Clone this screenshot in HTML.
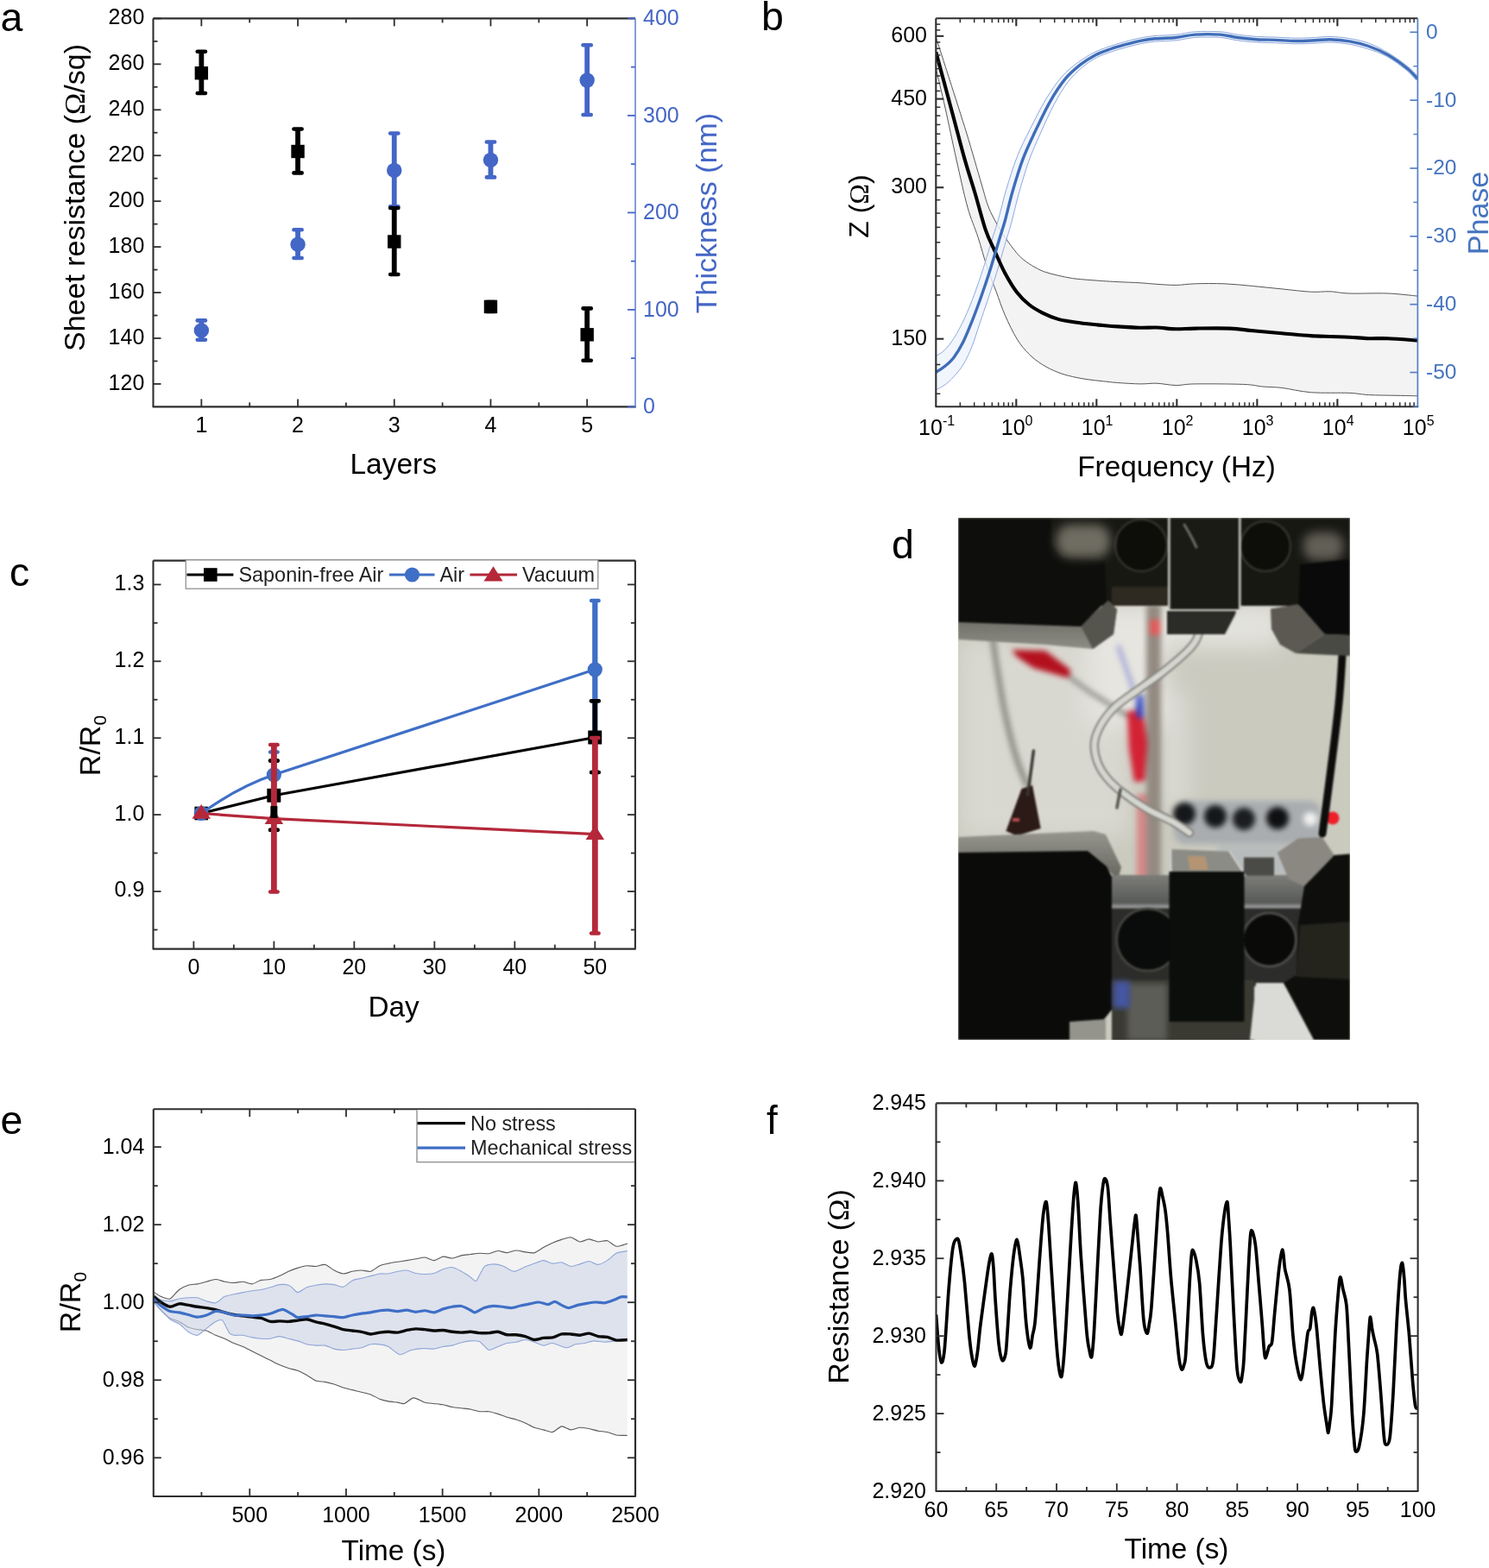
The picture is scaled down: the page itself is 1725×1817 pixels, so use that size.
<!DOCTYPE html>
<html lang="en">
<head>
<meta charset="utf-8">
<title>Figure</title>
<style>
html,body{margin:0;padding:0;background:#fff;}
body{width:1725px;height:1817px;overflow:hidden;}
svg{display:block;font-family:'Liberation Sans', sans-serif;}
</style>
</head>
<body>
<svg width="1725" height="1817" viewBox="0 0 1725 1817" font-family="'Liberation Sans', sans-serif">
<rect x="0" y="0" width="1725" height="1817" fill="#fff"/>
<g id="panel-a">
<text x="0.5" y="36" font-size="46.5" text-anchor="start" fill="#000" >a</text>
<line x1="177.5" y1="21.4" x2="736" y2="21.4" stroke="#2e2e2e" stroke-width="2.1" />
<line x1="177.5" y1="21.4" x2="177.5" y2="471.4" stroke="#2e2e2e" stroke-width="2.1" />
<line x1="176.7" y1="471.4" x2="736.8" y2="471.4" stroke="#2e2e2e" stroke-width="2.1" />
<line x1="736" y1="21.4" x2="736" y2="471.4" stroke="#6f8bd8" stroke-width="1.7" />
<line x1="233.35" y1="471.4" x2="233.35" y2="462.4" stroke="#2e2e2e" stroke-width="1.8" />
<line x1="345.05" y1="471.4" x2="345.05" y2="462.4" stroke="#2e2e2e" stroke-width="1.8" />
<line x1="456.75" y1="471.4" x2="456.75" y2="462.4" stroke="#2e2e2e" stroke-width="1.8" />
<line x1="568.45" y1="471.4" x2="568.45" y2="462.4" stroke="#2e2e2e" stroke-width="1.8" />
<line x1="680.15" y1="471.4" x2="680.15" y2="462.4" stroke="#2e2e2e" stroke-width="1.8" />
<line x1="289.2" y1="471.4" x2="289.2" y2="466.4" stroke="#2e2e2e" stroke-width="1.8" />
<line x1="400.9" y1="471.4" x2="400.9" y2="466.4" stroke="#2e2e2e" stroke-width="1.8" />
<line x1="512.6" y1="471.4" x2="512.6" y2="466.4" stroke="#2e2e2e" stroke-width="1.8" />
<line x1="624.3" y1="471.4" x2="624.3" y2="466.4" stroke="#2e2e2e" stroke-width="1.8" />
<line x1="233.35" y1="21.4" x2="233.35" y2="30.4" stroke="#2e2e2e" stroke-width="1.8" />
<line x1="345.05" y1="21.4" x2="345.05" y2="30.4" stroke="#2e2e2e" stroke-width="1.8" />
<line x1="456.75" y1="21.4" x2="456.75" y2="30.4" stroke="#2e2e2e" stroke-width="1.8" />
<line x1="568.45" y1="21.4" x2="568.45" y2="30.4" stroke="#2e2e2e" stroke-width="1.8" />
<line x1="680.15" y1="21.4" x2="680.15" y2="30.4" stroke="#2e2e2e" stroke-width="1.8" />
<line x1="289.2" y1="21.4" x2="289.2" y2="26.4" stroke="#2e2e2e" stroke-width="1.8" />
<line x1="400.9" y1="21.4" x2="400.9" y2="26.4" stroke="#2e2e2e" stroke-width="1.8" />
<line x1="512.6" y1="21.4" x2="512.6" y2="26.4" stroke="#2e2e2e" stroke-width="1.8" />
<line x1="624.3" y1="21.4" x2="624.3" y2="26.4" stroke="#2e2e2e" stroke-width="1.8" />
<line x1="177.5" y1="444.93" x2="186.5" y2="444.93" stroke="#2e2e2e" stroke-width="1.8" />
<line x1="177.5" y1="391.99" x2="186.5" y2="391.99" stroke="#2e2e2e" stroke-width="1.8" />
<line x1="177.5" y1="339.05" x2="186.5" y2="339.05" stroke="#2e2e2e" stroke-width="1.8" />
<line x1="177.5" y1="286.11" x2="186.5" y2="286.11" stroke="#2e2e2e" stroke-width="1.8" />
<line x1="177.5" y1="233.16" x2="186.5" y2="233.16" stroke="#2e2e2e" stroke-width="1.8" />
<line x1="177.5" y1="180.22" x2="186.5" y2="180.22" stroke="#2e2e2e" stroke-width="1.8" />
<line x1="177.5" y1="127.28" x2="186.5" y2="127.28" stroke="#2e2e2e" stroke-width="1.8" />
<line x1="177.5" y1="74.34" x2="186.5" y2="74.34" stroke="#2e2e2e" stroke-width="1.8" />
<line x1="177.5" y1="21.4" x2="186.5" y2="21.4" stroke="#2e2e2e" stroke-width="1.8" />
<line x1="177.5" y1="418.46" x2="182.5" y2="418.46" stroke="#2e2e2e" stroke-width="1.8" />
<line x1="177.5" y1="365.52" x2="182.5" y2="365.52" stroke="#2e2e2e" stroke-width="1.8" />
<line x1="177.5" y1="312.58" x2="182.5" y2="312.58" stroke="#2e2e2e" stroke-width="1.8" />
<line x1="177.5" y1="259.64" x2="182.5" y2="259.64" stroke="#2e2e2e" stroke-width="1.8" />
<line x1="177.5" y1="206.69" x2="182.5" y2="206.69" stroke="#2e2e2e" stroke-width="1.8" />
<line x1="177.5" y1="153.75" x2="182.5" y2="153.75" stroke="#2e2e2e" stroke-width="1.8" />
<line x1="177.5" y1="100.81" x2="182.5" y2="100.81" stroke="#2e2e2e" stroke-width="1.8" />
<line x1="177.5" y1="47.87" x2="182.5" y2="47.87" stroke="#2e2e2e" stroke-width="1.8" />
<line x1="736" y1="471.4" x2="727" y2="471.4" stroke="#4466c6" stroke-width="1.8" />
<line x1="736" y1="358.9" x2="727" y2="358.9" stroke="#4466c6" stroke-width="1.8" />
<line x1="736" y1="246.4" x2="727" y2="246.4" stroke="#4466c6" stroke-width="1.8" />
<line x1="736" y1="133.9" x2="727" y2="133.9" stroke="#4466c6" stroke-width="1.8" />
<line x1="736" y1="21.4" x2="727" y2="21.4" stroke="#4466c6" stroke-width="1.8" />
<line x1="736" y1="415.15" x2="731" y2="415.15" stroke="#4466c6" stroke-width="1.8" />
<line x1="736" y1="302.65" x2="731" y2="302.65" stroke="#4466c6" stroke-width="1.8" />
<line x1="736" y1="190.15" x2="731" y2="190.15" stroke="#4466c6" stroke-width="1.8" />
<line x1="736" y1="77.65" x2="731" y2="77.65" stroke="#4466c6" stroke-width="1.8" />
<text x="233.35" y="501" font-size="25" text-anchor="middle" fill="#000" >1</text>
<text x="345.05" y="501" font-size="25" text-anchor="middle" fill="#000" >2</text>
<text x="456.75" y="501" font-size="25" text-anchor="middle" fill="#000" >3</text>
<text x="568.45" y="501" font-size="25" text-anchor="middle" fill="#000" >4</text>
<text x="680.15" y="501" font-size="25" text-anchor="middle" fill="#000" >5</text>
<text x="167.3" y="451.73" font-size="25" text-anchor="end" fill="#000" >120</text>
<text x="167.3" y="398.79" font-size="25" text-anchor="end" fill="#000" >140</text>
<text x="167.3" y="345.85" font-size="25" text-anchor="end" fill="#000" >160</text>
<text x="167.3" y="292.91" font-size="25" text-anchor="end" fill="#000" >180</text>
<text x="167.3" y="239.96" font-size="25" text-anchor="end" fill="#000" >200</text>
<text x="167.3" y="187.02" font-size="25" text-anchor="end" fill="#000" >220</text>
<text x="167.3" y="134.08" font-size="25" text-anchor="end" fill="#000" >240</text>
<text x="167.3" y="81.14" font-size="25" text-anchor="end" fill="#000" >260</text>
<text x="167.3" y="28.2" font-size="25" text-anchor="end" fill="#000" >280</text>
<text x="745" y="479" font-size="25" text-anchor="start" fill="#4466c6" >0</text>
<text x="745" y="366.5" font-size="25" text-anchor="start" fill="#4466c6" >100</text>
<text x="745" y="254" font-size="25" text-anchor="start" fill="#4466c6" >200</text>
<text x="745" y="141.5" font-size="25" text-anchor="start" fill="#4466c6" >300</text>
<text x="745" y="29" font-size="25" text-anchor="start" fill="#4466c6" >400</text>
<text x="455.75" y="548.9" font-size="33.5" text-anchor="middle" fill="#000" >Layers</text>
<text x="98" y="229" font-size="34" text-anchor="middle" fill="#000" transform="rotate(-90 98 229)" >Sheet resistance (<tspan font-family="'Liberation Serif', serif">&#937;</tspan>/sq)</text>
<text x="830" y="247" font-size="34" text-anchor="middle" fill="#4466c6" transform="rotate(-90 830 247)" >Thickness (nm)</text>
<line x1="233.35" y1="371.4" x2="233.35" y2="393.8" stroke="#4466c6" stroke-width="5.8" />
<line x1="228.75" y1="371.4" x2="237.95" y2="371.4" stroke="#4466c6" stroke-width="4.6" stroke-linecap="round"/>
<line x1="228.75" y1="393.8" x2="237.95" y2="393.8" stroke="#4466c6" stroke-width="4.6" stroke-linecap="round"/>
<circle cx="233.35" cy="382.9" r="8.7" fill="#4466c6"/>
<line x1="345.05" y1="266.2" x2="345.05" y2="299" stroke="#4466c6" stroke-width="5.8" />
<line x1="340.45" y1="266.2" x2="349.65" y2="266.2" stroke="#4466c6" stroke-width="4.6" stroke-linecap="round"/>
<line x1="340.45" y1="299" x2="349.65" y2="299" stroke="#4466c6" stroke-width="4.6" stroke-linecap="round"/>
<circle cx="345.05" cy="283.2" r="8.7" fill="#4466c6"/>
<line x1="456.75" y1="154.5" x2="456.75" y2="239.3" stroke="#4466c6" stroke-width="5.8" />
<line x1="452.15" y1="154.5" x2="461.35" y2="154.5" stroke="#4466c6" stroke-width="4.6" stroke-linecap="round"/>
<line x1="452.15" y1="239.3" x2="461.35" y2="239.3" stroke="#4466c6" stroke-width="4.6" stroke-linecap="round"/>
<circle cx="456.75" cy="197.4" r="8.7" fill="#4466c6"/>
<line x1="568.45" y1="164.5" x2="568.45" y2="205.4" stroke="#4466c6" stroke-width="5.8" />
<line x1="563.85" y1="164.5" x2="573.05" y2="164.5" stroke="#4466c6" stroke-width="4.6" stroke-linecap="round"/>
<line x1="563.85" y1="205.4" x2="573.05" y2="205.4" stroke="#4466c6" stroke-width="4.6" stroke-linecap="round"/>
<circle cx="568.45" cy="185.4" r="8.7" fill="#4466c6"/>
<line x1="680.15" y1="52.2" x2="680.15" y2="133" stroke="#4466c6" stroke-width="5.8" />
<line x1="675.55" y1="52.2" x2="684.75" y2="52.2" stroke="#4466c6" stroke-width="4.6" stroke-linecap="round"/>
<line x1="675.55" y1="133" x2="684.75" y2="133" stroke="#4466c6" stroke-width="4.6" stroke-linecap="round"/>
<circle cx="680.15" cy="93" r="8.7" fill="#4466c6"/>
<line x1="233.35" y1="59.8" x2="233.35" y2="108" stroke="#000" stroke-width="5.8" />
<line x1="228.75" y1="59.8" x2="237.95" y2="59.8" stroke="#000" stroke-width="4.6" stroke-linecap="round"/>
<line x1="228.75" y1="108" x2="237.95" y2="108" stroke="#000" stroke-width="4.6" stroke-linecap="round"/>
<rect x="225.65" y="77" width="15.4" height="15.4" fill="#000"/>
<line x1="345.05" y1="149.5" x2="345.05" y2="200.4" stroke="#000" stroke-width="5.8" />
<line x1="340.45" y1="149.5" x2="349.65" y2="149.5" stroke="#000" stroke-width="4.6" stroke-linecap="round"/>
<line x1="340.45" y1="200.4" x2="349.65" y2="200.4" stroke="#000" stroke-width="4.6" stroke-linecap="round"/>
<rect x="337.35" y="167.8" width="15.4" height="15.4" fill="#000"/>
<line x1="456.75" y1="241" x2="456.75" y2="318" stroke="#000" stroke-width="5.8" />
<line x1="452.15" y1="241" x2="461.35" y2="241" stroke="#000" stroke-width="4.6" stroke-linecap="round"/>
<line x1="452.15" y1="318" x2="461.35" y2="318" stroke="#000" stroke-width="4.6" stroke-linecap="round"/>
<rect x="449.05" y="272.3" width="15.4" height="15.4" fill="#000"/>
<line x1="568.45" y1="350" x2="568.45" y2="361" stroke="#000" stroke-width="5.8" />
<line x1="563.85" y1="350" x2="573.05" y2="350" stroke="#000" stroke-width="4.6" stroke-linecap="round"/>
<line x1="563.85" y1="361" x2="573.05" y2="361" stroke="#000" stroke-width="4.6" stroke-linecap="round"/>
<rect x="560.75" y="347.7" width="15.4" height="15.4" fill="#000"/>
<line x1="680.15" y1="357.4" x2="680.15" y2="417.7" stroke="#000" stroke-width="5.8" />
<line x1="675.55" y1="357.4" x2="684.75" y2="357.4" stroke="#000" stroke-width="4.6" stroke-linecap="round"/>
<line x1="675.55" y1="417.7" x2="684.75" y2="417.7" stroke="#000" stroke-width="4.6" stroke-linecap="round"/>
<rect x="672.45" y="380.1" width="15.4" height="15.4" fill="#000"/>
</g>
<g id="panel-b">
<text x="882" y="35.3" font-size="46.5" text-anchor="start" fill="#000" >b</text>
<clipPath id="clipb"><rect x="1084.3" y="21.3" width="558.1" height="450"/></clipPath>
<g clip-path="url(#clipb)">
<path d="M1084.3 43 C1086.92 51.17 1094.05 73.33 1100 92 C1105.95 110.67 1113.83 134.83 1120 155 C1126.17 175.17 1132.8 198.83 1137 213 C1141.2 227.17 1142.08 232.02 1145.2 240 C1148.32 247.98 1151.93 254.23 1155.7 260.9 C1159.47 267.57 1163.47 273.92 1167.8 280 C1172.13 286.08 1177.05 292.77 1181.7 297.4 C1186.35 302.03 1191.05 304.9 1195.7 307.8 C1200.35 310.7 1204.68 312.92 1209.6 314.8 C1214.52 316.68 1219.7 317.8 1225.2 319.1 C1230.7 320.4 1236.8 321.73 1242.6 322.6 C1248.4 323.47 1254.2 323.8 1260 324.3 C1265.8 324.8 1271.6 325.22 1277.4 325.6 C1283.2 325.98 1287.55 326.23 1294.8 326.6 C1302.05 326.97 1313.37 327.35 1320.9 327.8 C1328.43 328.25 1333.1 328.87 1340 329.3 C1346.9 329.73 1354.87 330.48 1362.3 330.4 C1369.73 330.32 1375.3 329.07 1384.6 328.8 C1393.9 328.53 1406.93 328.35 1418.1 328.8 C1429.27 329.25 1440.43 330.48 1451.6 331.5 C1462.77 332.52 1473.93 333.78 1485.1 334.9 C1496.27 336.02 1509.3 337.72 1518.6 338.2 C1527.9 338.68 1533.47 337.5 1540.9 337.8 C1548.33 338.1 1552.03 339.63 1563.2 340 C1574.37 340.37 1594.7 339.48 1607.9 340 C1621.1 340.52 1636.65 342.58 1642.4 343.1 L1642.4 458.8 C1638.5 458.72 1628.48 458.5 1619 458.3 C1609.52 458.1 1594.8 458.08 1585.5 457.6 C1576.2 457.12 1574.35 455.88 1563.2 455.4 C1552.05 454.92 1531.62 455.7 1518.6 454.7 C1505.58 453.7 1494.4 450.52 1485.1 449.4 C1475.8 448.28 1470.25 448.67 1462.8 448 C1455.35 447.33 1453.43 445.92 1440.4 445.4 C1427.37 444.88 1397.62 444.72 1384.6 444.9 C1371.58 445.08 1369.73 446.62 1362.3 446.5 C1354.87 446.38 1346.9 444.47 1340 444.2 C1333.1 443.93 1328.43 445.02 1320.9 444.9 C1313.37 444.78 1302.05 444.03 1294.8 443.5 C1287.55 442.97 1283.2 442.33 1277.4 441.7 C1271.6 441.07 1265.8 440.57 1260 439.7 C1254.2 438.83 1248.4 437.9 1242.6 436.5 C1236.8 435.1 1231 433.62 1225.2 431.3 C1219.4 428.98 1213.3 426.08 1207.8 422.6 C1202.3 419.12 1197.12 415.33 1192.2 410.4 C1187.28 405.47 1182.95 400.53 1178.3 393 C1173.65 385.47 1168.37 374.47 1164.3 365.2 C1160.23 355.93 1157.37 346.67 1153.9 337.4 C1150.43 328.13 1146.98 320.03 1143.5 309.6 C1140.02 299.17 1136.77 286.4 1133 274.8 C1129.23 263.2 1125.07 254.97 1120.9 240 C1116.73 225.03 1112.32 204.17 1108 185 C1103.68 165.83 1098.95 142.57 1095 125 C1091.05 107.43 1086.08 87.17 1084.3 79.6 Z" fill="#f3f3f3" stroke="none" />
<path d="M1084.3 43 C1086.92 51.17 1094.05 73.33 1100 92 C1105.95 110.67 1113.83 134.83 1120 155 C1126.17 175.17 1132.8 198.83 1137 213 C1141.2 227.17 1142.08 232.02 1145.2 240 C1148.32 247.98 1151.93 254.23 1155.7 260.9 C1159.47 267.57 1163.47 273.92 1167.8 280 C1172.13 286.08 1177.05 292.77 1181.7 297.4 C1186.35 302.03 1191.05 304.9 1195.7 307.8 C1200.35 310.7 1204.68 312.92 1209.6 314.8 C1214.52 316.68 1219.7 317.8 1225.2 319.1 C1230.7 320.4 1236.8 321.73 1242.6 322.6 C1248.4 323.47 1254.2 323.8 1260 324.3 C1265.8 324.8 1271.6 325.22 1277.4 325.6 C1283.2 325.98 1287.55 326.23 1294.8 326.6 C1302.05 326.97 1313.37 327.35 1320.9 327.8 C1328.43 328.25 1333.1 328.87 1340 329.3 C1346.9 329.73 1354.87 330.48 1362.3 330.4 C1369.73 330.32 1375.3 329.07 1384.6 328.8 C1393.9 328.53 1406.93 328.35 1418.1 328.8 C1429.27 329.25 1440.43 330.48 1451.6 331.5 C1462.77 332.52 1473.93 333.78 1485.1 334.9 C1496.27 336.02 1509.3 337.72 1518.6 338.2 C1527.9 338.68 1533.47 337.5 1540.9 337.8 C1548.33 338.1 1552.03 339.63 1563.2 340 C1574.37 340.37 1594.7 339.48 1607.9 340 C1621.1 340.52 1636.65 342.58 1642.4 343.1" stroke="#555" stroke-width="1.0" fill="none" stroke-linejoin="round" stroke-linecap="butt" />
<path d="M1084.3 79.6 C1086.08 87.17 1091.05 107.43 1095 125 C1098.95 142.57 1103.68 165.83 1108 185 C1112.32 204.17 1116.73 225.03 1120.9 240 C1125.07 254.97 1129.23 263.2 1133 274.8 C1136.77 286.4 1140.02 299.17 1143.5 309.6 C1146.98 320.03 1150.43 328.13 1153.9 337.4 C1157.37 346.67 1160.23 355.93 1164.3 365.2 C1168.37 374.47 1173.65 385.47 1178.3 393 C1182.95 400.53 1187.28 405.47 1192.2 410.4 C1197.12 415.33 1202.3 419.12 1207.8 422.6 C1213.3 426.08 1219.4 428.98 1225.2 431.3 C1231 433.62 1236.8 435.1 1242.6 436.5 C1248.4 437.9 1254.2 438.83 1260 439.7 C1265.8 440.57 1271.6 441.07 1277.4 441.7 C1283.2 442.33 1287.55 442.97 1294.8 443.5 C1302.05 444.03 1313.37 444.78 1320.9 444.9 C1328.43 445.02 1333.1 443.93 1340 444.2 C1346.9 444.47 1354.87 446.38 1362.3 446.5 C1369.73 446.62 1371.58 445.08 1384.6 444.9 C1397.62 444.72 1427.37 444.88 1440.4 445.4 C1453.43 445.92 1455.35 447.33 1462.8 448 C1470.25 448.67 1475.8 448.28 1485.1 449.4 C1494.4 450.52 1505.58 453.7 1518.6 454.7 C1531.62 455.7 1552.05 454.92 1563.2 455.4 C1574.35 455.88 1576.2 457.12 1585.5 457.6 C1594.8 458.08 1609.52 458.1 1619 458.3 C1628.48 458.5 1638.5 458.72 1642.4 458.8" stroke="#555" stroke-width="1.0" fill="none" stroke-linejoin="round" stroke-linecap="butt" />
<path d="M1073.73 456.26 C1076.93 454.73 1087.72 450.4 1092.92 447.1 C1098.11 443.8 1101.05 440.62 1104.92 436.46 C1108.79 432.29 1112.61 427.91 1116.11 422.11 C1119.62 416.3 1122.85 409.38 1125.96 401.64 C1129.06 393.9 1131.68 384.74 1134.75 375.65 C1137.82 366.55 1141.05 357.12 1144.39 347.09 C1147.73 337.06 1151.34 326.54 1154.78 315.46 C1158.22 304.38 1162.17 290.21 1165.01 280.6 C1167.85 270.99 1169.28 267.2 1171.83 257.79 C1174.38 248.38 1176.98 236.03 1180.34 224.14 C1183.69 212.24 1187.86 197.9 1191.96 186.44 C1196.07 174.98 1200.07 166.36 1204.97 155.38 C1209.87 144.4 1215.92 130.69 1221.35 120.57 C1226.77 110.45 1232.13 101.73 1237.52 94.65 C1242.9 87.58 1248.19 82.77 1253.64 78.14 C1259.1 73.5 1264.64 69.83 1270.23 66.82 C1275.82 63.82 1281.5 62.1 1287.19 60.11 C1292.88 58.12 1298.65 56.46 1304.38 54.88 C1310.1 53.3 1315.84 51.77 1321.54 50.64 C1327.25 49.5 1331.76 48.73 1338.61 48.09 C1345.46 47.44 1354.93 47.57 1362.63 46.78 C1370.33 46 1376.34 43.96 1384.82 43.39 C1393.29 42.83 1405.38 42.83 1413.47 43.39 C1421.56 43.96 1426.31 45.84 1433.37 46.77 C1440.42 47.7 1448.3 48.51 1455.79 48.99 C1463.27 49.48 1470.79 49.4 1478.27 49.7 C1485.75 50 1493.19 50.73 1500.67 50.8 C1508.15 50.87 1516.46 50.4 1523.15 50.1 C1529.84 49.8 1534.23 48.82 1540.81 49 C1547.39 49.17 1555.37 49.88 1562.63 51.15 C1569.9 52.42 1577.04 54.22 1584.41 56.61 C1591.77 59.01 1599.4 61.46 1606.8 65.51 C1614.21 69.56 1623.14 76.32 1628.82 80.91 C1634.49 85.5 1638.83 91.03 1640.84 93.05 L1643.96 89.95 C1641.9 87.87 1637.41 82.2 1631.58 77.49 C1625.76 72.78 1616.49 66.21 1609 61.69 C1601.5 57.18 1594.13 53.23 1586.59 50.39 C1579.06 47.55 1571.37 45.98 1563.77 44.65 C1556.17 43.32 1547.81 42.59 1540.99 42.4 C1534.17 42.21 1529.56 43.2 1522.85 43.5 C1516.14 43.8 1508.12 44.27 1500.73 44.2 C1493.34 44.13 1485.95 43.4 1478.53 43.1 C1471.11 42.8 1463.6 42.89 1456.21 42.41 C1448.83 41.93 1441.28 41.16 1434.23 40.23 C1427.19 39.3 1422.24 37.38 1413.93 36.81 C1405.62 36.24 1393.04 36.24 1384.38 36.81 C1375.72 37.38 1369.7 39.43 1361.97 40.22 C1354.23 41 1344.94 40.86 1337.99 41.51 C1331.04 42.17 1326.15 43 1320.26 44.16 C1314.36 45.33 1308.5 46.9 1302.62 48.52 C1296.75 50.14 1290.92 51.81 1285.01 53.89 C1279.1 55.96 1273.18 57.91 1267.17 60.98 C1261.16 64.04 1255.1 67.64 1248.96 72.26 C1242.81 76.89 1236.5 81.62 1230.28 88.75 C1224.07 95.87 1217.83 104.85 1211.65 115.03 C1205.48 125.21 1198.76 138.76 1193.23 149.82 C1187.69 160.87 1183.03 169.68 1178.44 181.36 C1173.84 193.03 1169.28 207.82 1165.66 219.86 C1162.05 231.91 1159.42 244.26 1156.77 253.61 C1154.12 262.97 1152.71 266.51 1149.79 276 C1146.86 285.49 1142.75 299.62 1139.22 310.54 C1135.69 321.46 1132.24 331.81 1128.61 341.51 C1124.98 351.22 1121.31 360.45 1117.45 368.75 C1113.59 377.06 1109.3 385.2 1105.44 391.36 C1101.58 397.52 1097.75 402.23 1094.29 405.69 C1090.82 409.16 1087.78 410.51 1084.68 412.14 C1081.58 413.78 1080.09 413.56 1075.68 415.5 C1071.28 417.43 1061.17 422.37 1058.27 423.74 Z" fill="#eef3fb" stroke="none" opacity="0.8"/>
<path d="M1073.73 456.26 C1076.93 454.73 1087.72 450.4 1092.92 447.1 C1098.11 443.8 1101.05 440.62 1104.92 436.46 C1108.79 432.29 1112.61 427.91 1116.11 422.11 C1119.62 416.3 1122.85 409.38 1125.96 401.64 C1129.06 393.9 1131.68 384.74 1134.75 375.65 C1137.82 366.55 1141.05 357.12 1144.39 347.09 C1147.73 337.06 1151.34 326.54 1154.78 315.46 C1158.22 304.38 1162.17 290.21 1165.01 280.6 C1167.85 270.99 1169.28 267.2 1171.83 257.79 C1174.38 248.38 1176.98 236.03 1180.34 224.14 C1183.69 212.24 1187.86 197.9 1191.96 186.44 C1196.07 174.98 1200.07 166.36 1204.97 155.38 C1209.87 144.4 1215.92 130.69 1221.35 120.57 C1226.77 110.45 1232.13 101.73 1237.52 94.65 C1242.9 87.58 1248.19 82.77 1253.64 78.14 C1259.1 73.5 1264.64 69.83 1270.23 66.82 C1275.82 63.82 1281.5 62.1 1287.19 60.11 C1292.88 58.12 1298.65 56.46 1304.38 54.88 C1310.1 53.3 1315.84 51.77 1321.54 50.64 C1327.25 49.5 1331.76 48.73 1338.61 48.09 C1345.46 47.44 1354.93 47.57 1362.63 46.78 C1370.33 46 1376.34 43.96 1384.82 43.39 C1393.29 42.83 1405.38 42.83 1413.47 43.39 C1421.56 43.96 1426.31 45.84 1433.37 46.77 C1440.42 47.7 1448.3 48.51 1455.79 48.99 C1463.27 49.48 1470.79 49.4 1478.27 49.7 C1485.75 50 1493.19 50.73 1500.67 50.8 C1508.15 50.87 1516.46 50.4 1523.15 50.1 C1529.84 49.8 1534.23 48.82 1540.81 49 C1547.39 49.17 1555.37 49.88 1562.63 51.15 C1569.9 52.42 1577.04 54.22 1584.41 56.61 C1591.77 59.01 1599.4 61.46 1606.8 65.51 C1614.21 69.56 1623.14 76.32 1628.82 80.91 C1634.49 85.5 1638.83 91.03 1640.84 93.05" stroke="#8fa8dc" stroke-width="1.0" fill="none" stroke-linejoin="round" stroke-linecap="butt" />
<path d="M1058.27 423.74 C1061.17 422.37 1071.28 417.43 1075.68 415.5 C1080.09 413.56 1081.58 413.78 1084.68 412.14 C1087.78 410.51 1090.82 409.16 1094.29 405.69 C1097.75 402.23 1101.58 397.52 1105.44 391.36 C1109.3 385.2 1113.59 377.06 1117.45 368.75 C1121.31 360.45 1124.98 351.22 1128.61 341.51 C1132.24 331.81 1135.69 321.46 1139.22 310.54 C1142.75 299.62 1146.86 285.49 1149.79 276 C1152.71 266.51 1154.12 262.97 1156.77 253.61 C1159.42 244.26 1162.05 231.91 1165.66 219.86 C1169.28 207.82 1173.84 193.03 1178.44 181.36 C1183.03 169.68 1187.69 160.87 1193.23 149.82 C1198.76 138.76 1205.48 125.21 1211.65 115.03 C1217.83 104.85 1224.07 95.87 1230.28 88.75 C1236.5 81.62 1242.81 76.89 1248.96 72.26 C1255.1 67.64 1261.16 64.04 1267.17 60.98 C1273.18 57.91 1279.1 55.96 1285.01 53.89 C1290.92 51.81 1296.75 50.14 1302.62 48.52 C1308.5 46.9 1314.36 45.33 1320.26 44.16 C1326.15 43 1331.04 42.17 1337.99 41.51 C1344.94 40.86 1354.23 41 1361.97 40.22 C1369.7 39.43 1375.72 37.38 1384.38 36.81 C1393.04 36.24 1405.62 36.24 1413.93 36.81 C1422.24 37.38 1427.19 39.3 1434.23 40.23 C1441.28 41.16 1448.83 41.93 1456.21 42.41 C1463.6 42.89 1471.11 42.8 1478.53 43.1 C1485.95 43.4 1493.34 44.13 1500.73 44.2 C1508.12 44.27 1516.14 43.8 1522.85 43.5 C1529.56 43.2 1534.17 42.21 1540.99 42.4 C1547.81 42.59 1556.17 43.32 1563.77 44.65 C1571.37 45.98 1579.06 47.55 1586.59 50.39 C1594.13 53.23 1601.5 57.18 1609 61.69 C1616.49 66.21 1625.76 72.78 1631.58 77.49 C1637.41 82.2 1641.9 87.87 1643.96 89.95" stroke="#8fa8dc" stroke-width="1.0" fill="none" stroke-linejoin="round" stroke-linecap="butt" />
<path d="M1084.3 60.4 C1087.5 72.28 1097.98 111.12 1103.5 131.7 C1109.02 152.28 1113.05 168.52 1117.4 183.9 C1121.75 199.28 1125.55 210.3 1129.6 224 C1133.65 237.7 1137.93 255.03 1141.7 266.1 C1145.47 277.17 1148.43 282 1152.2 290.4 C1155.97 298.8 1159.95 308.38 1164.3 316.5 C1168.65 324.62 1173.65 333.02 1178.3 339.1 C1182.95 345.18 1187.28 349.08 1192.2 353 C1197.12 356.92 1202.3 359.83 1207.8 362.6 C1213.3 365.37 1219.4 367.87 1225.2 369.6 C1231 371.33 1236.8 372.05 1242.6 373 C1248.4 373.95 1254.2 374.63 1260 375.3 C1265.8 375.97 1271.6 376.48 1277.4 377 C1283.2 377.52 1287.55 377.95 1294.8 378.4 C1302.05 378.85 1313.37 379.52 1320.9 379.7 C1328.43 379.88 1333.1 379.23 1340 379.5 C1346.9 379.77 1354.87 381.12 1362.3 381.3 C1369.73 381.48 1374.18 380.72 1384.6 380.6 C1395.02 380.48 1413.63 380.15 1424.8 380.6 C1435.97 381.05 1441.55 382.37 1451.6 383.3 C1461.65 384.23 1473.93 385.23 1485.1 386.2 C1496.27 387.17 1509.3 388.47 1518.6 389.1 C1527.9 389.73 1533.47 389.73 1540.9 390 C1548.33 390.27 1555.77 390.33 1563.2 390.7 C1570.63 391.07 1578.05 391.95 1585.5 392.2 C1592.95 392.45 1598.42 391.82 1607.9 392.2 C1617.38 392.58 1636.65 394.12 1642.4 394.5" stroke="#000" stroke-width="4.1" fill="none" stroke-linejoin="round" stroke-linecap="butt" />
<path d="M1066 440 C1069.05 438.55 1079.5 433.92 1084.3 431.3 C1089.1 428.68 1091.32 427.2 1094.8 424.3 C1098.28 421.4 1101.72 418.53 1105.2 413.9 C1108.68 409.27 1112.22 403.45 1115.7 396.5 C1119.18 389.55 1122.63 380.9 1126.1 372.2 C1129.57 363.5 1133.02 354.17 1136.5 344.3 C1139.98 334.43 1143.52 324 1147 313 C1150.48 302 1154.52 287.85 1157.4 278.3 C1160.28 268.75 1161.7 265.08 1164.3 255.7 C1166.9 246.32 1169.52 233.97 1173 222 C1176.48 210.03 1180.85 195.47 1185.2 183.9 C1189.55 172.33 1193.88 163.62 1199.1 152.6 C1204.32 141.58 1210.7 127.95 1216.5 117.8 C1222.3 107.65 1228.1 98.8 1233.9 91.7 C1239.7 84.6 1245.5 79.83 1251.3 75.2 C1257.1 70.57 1262.9 66.93 1268.7 63.9 C1274.5 60.87 1280.3 59.03 1286.1 57 C1291.9 54.97 1297.7 53.3 1303.5 51.7 C1309.3 50.1 1315.1 48.55 1320.9 47.4 C1326.7 46.25 1331.4 45.45 1338.3 44.8 C1345.2 44.15 1354.58 44.28 1362.3 43.5 C1370.02 42.72 1376.03 40.67 1384.6 40.1 C1393.17 39.53 1405.5 39.53 1413.7 40.1 C1421.9 40.67 1426.75 42.57 1433.8 43.5 C1440.85 44.43 1448.57 45.22 1456 45.7 C1463.43 46.18 1470.95 46.1 1478.4 46.4 C1485.85 46.7 1493.27 47.43 1500.7 47.5 C1508.13 47.57 1516.3 47.1 1523 46.8 C1529.7 46.5 1534.2 45.52 1540.9 45.7 C1547.6 45.88 1555.77 46.6 1563.2 47.9 C1570.63 49.2 1578.05 50.88 1585.5 53.5 C1592.95 56.12 1600.45 59.32 1607.9 63.6 C1615.35 67.88 1624.45 74.55 1630.2 79.2 C1635.95 83.85 1640.37 89.45 1642.4 91.5" stroke="#3f6db8" stroke-width="3.4" fill="none" stroke-linejoin="round" stroke-linecap="butt" />
</g>
<line x1="1084.3" y1="21.3" x2="1642.4" y2="21.3" stroke="#2e2e2e" stroke-width="2.1" />
<line x1="1084.3" y1="21.3" x2="1084.3" y2="471.3" stroke="#2e2e2e" stroke-width="2.1" />
<line x1="1083.5" y1="471.3" x2="1643.2" y2="471.3" stroke="#2e2e2e" stroke-width="2.1" />
<line x1="1642.4" y1="21.3" x2="1642.4" y2="471.3" stroke="#5580c6" stroke-width="1.7" />
<line x1="1112.3" y1="471.3" x2="1112.3" y2="466.3" stroke="#2e2e2e" stroke-width="1.5" />
<line x1="1112.3" y1="21.3" x2="1112.3" y2="26.3" stroke="#2e2e2e" stroke-width="1.5" />
<line x1="1128.68" y1="471.3" x2="1128.68" y2="466.3" stroke="#2e2e2e" stroke-width="1.5" />
<line x1="1128.68" y1="21.3" x2="1128.68" y2="26.3" stroke="#2e2e2e" stroke-width="1.5" />
<line x1="1140.3" y1="471.3" x2="1140.3" y2="466.3" stroke="#2e2e2e" stroke-width="1.5" />
<line x1="1140.3" y1="21.3" x2="1140.3" y2="26.3" stroke="#2e2e2e" stroke-width="1.5" />
<line x1="1149.32" y1="471.3" x2="1149.32" y2="466.3" stroke="#2e2e2e" stroke-width="1.5" />
<line x1="1149.32" y1="21.3" x2="1149.32" y2="26.3" stroke="#2e2e2e" stroke-width="1.5" />
<line x1="1156.68" y1="471.3" x2="1156.68" y2="466.3" stroke="#2e2e2e" stroke-width="1.5" />
<line x1="1156.68" y1="21.3" x2="1156.68" y2="26.3" stroke="#2e2e2e" stroke-width="1.5" />
<line x1="1162.91" y1="471.3" x2="1162.91" y2="466.3" stroke="#2e2e2e" stroke-width="1.5" />
<line x1="1162.91" y1="21.3" x2="1162.91" y2="26.3" stroke="#2e2e2e" stroke-width="1.5" />
<line x1="1168.3" y1="471.3" x2="1168.3" y2="466.3" stroke="#2e2e2e" stroke-width="1.5" />
<line x1="1168.3" y1="21.3" x2="1168.3" y2="26.3" stroke="#2e2e2e" stroke-width="1.5" />
<line x1="1173.06" y1="471.3" x2="1173.06" y2="466.3" stroke="#2e2e2e" stroke-width="1.5" />
<line x1="1173.06" y1="21.3" x2="1173.06" y2="26.3" stroke="#2e2e2e" stroke-width="1.5" />
<text x="1085.1" y="504.3" font-size="25" text-anchor="middle">10<tspan font-size="16" dy="-11">-1</tspan></text>
<line x1="1177.32" y1="471.3" x2="1177.32" y2="462.3" stroke="#2e2e2e" stroke-width="2.1" />
<line x1="1177.32" y1="21.3" x2="1177.32" y2="30.3" stroke="#2e2e2e" stroke-width="2.1" />
<line x1="1205.32" y1="471.3" x2="1205.32" y2="466.3" stroke="#2e2e2e" stroke-width="1.5" />
<line x1="1205.32" y1="21.3" x2="1205.32" y2="26.3" stroke="#2e2e2e" stroke-width="1.5" />
<line x1="1221.7" y1="471.3" x2="1221.7" y2="466.3" stroke="#2e2e2e" stroke-width="1.5" />
<line x1="1221.7" y1="21.3" x2="1221.7" y2="26.3" stroke="#2e2e2e" stroke-width="1.5" />
<line x1="1233.32" y1="471.3" x2="1233.32" y2="466.3" stroke="#2e2e2e" stroke-width="1.5" />
<line x1="1233.32" y1="21.3" x2="1233.32" y2="26.3" stroke="#2e2e2e" stroke-width="1.5" />
<line x1="1242.33" y1="471.3" x2="1242.33" y2="466.3" stroke="#2e2e2e" stroke-width="1.5" />
<line x1="1242.33" y1="21.3" x2="1242.33" y2="26.3" stroke="#2e2e2e" stroke-width="1.5" />
<line x1="1249.7" y1="471.3" x2="1249.7" y2="466.3" stroke="#2e2e2e" stroke-width="1.5" />
<line x1="1249.7" y1="21.3" x2="1249.7" y2="26.3" stroke="#2e2e2e" stroke-width="1.5" />
<line x1="1255.92" y1="471.3" x2="1255.92" y2="466.3" stroke="#2e2e2e" stroke-width="1.5" />
<line x1="1255.92" y1="21.3" x2="1255.92" y2="26.3" stroke="#2e2e2e" stroke-width="1.5" />
<line x1="1261.32" y1="471.3" x2="1261.32" y2="466.3" stroke="#2e2e2e" stroke-width="1.5" />
<line x1="1261.32" y1="21.3" x2="1261.32" y2="26.3" stroke="#2e2e2e" stroke-width="1.5" />
<line x1="1266.08" y1="471.3" x2="1266.08" y2="466.3" stroke="#2e2e2e" stroke-width="1.5" />
<line x1="1266.08" y1="21.3" x2="1266.08" y2="26.3" stroke="#2e2e2e" stroke-width="1.5" />
<text x="1178.12" y="504.3" font-size="25" text-anchor="middle">10<tspan font-size="16" dy="-11">0</tspan></text>
<line x1="1270.33" y1="471.3" x2="1270.33" y2="462.3" stroke="#2e2e2e" stroke-width="2.1" />
<line x1="1270.33" y1="21.3" x2="1270.33" y2="30.3" stroke="#2e2e2e" stroke-width="2.1" />
<line x1="1298.33" y1="471.3" x2="1298.33" y2="466.3" stroke="#2e2e2e" stroke-width="1.5" />
<line x1="1298.33" y1="21.3" x2="1298.33" y2="26.3" stroke="#2e2e2e" stroke-width="1.5" />
<line x1="1314.71" y1="471.3" x2="1314.71" y2="466.3" stroke="#2e2e2e" stroke-width="1.5" />
<line x1="1314.71" y1="21.3" x2="1314.71" y2="26.3" stroke="#2e2e2e" stroke-width="1.5" />
<line x1="1326.33" y1="471.3" x2="1326.33" y2="466.3" stroke="#2e2e2e" stroke-width="1.5" />
<line x1="1326.33" y1="21.3" x2="1326.33" y2="26.3" stroke="#2e2e2e" stroke-width="1.5" />
<line x1="1335.35" y1="471.3" x2="1335.35" y2="466.3" stroke="#2e2e2e" stroke-width="1.5" />
<line x1="1335.35" y1="21.3" x2="1335.35" y2="26.3" stroke="#2e2e2e" stroke-width="1.5" />
<line x1="1342.71" y1="471.3" x2="1342.71" y2="466.3" stroke="#2e2e2e" stroke-width="1.5" />
<line x1="1342.71" y1="21.3" x2="1342.71" y2="26.3" stroke="#2e2e2e" stroke-width="1.5" />
<line x1="1348.94" y1="471.3" x2="1348.94" y2="466.3" stroke="#2e2e2e" stroke-width="1.5" />
<line x1="1348.94" y1="21.3" x2="1348.94" y2="26.3" stroke="#2e2e2e" stroke-width="1.5" />
<line x1="1354.34" y1="471.3" x2="1354.34" y2="466.3" stroke="#2e2e2e" stroke-width="1.5" />
<line x1="1354.34" y1="21.3" x2="1354.34" y2="26.3" stroke="#2e2e2e" stroke-width="1.5" />
<line x1="1359.09" y1="471.3" x2="1359.09" y2="466.3" stroke="#2e2e2e" stroke-width="1.5" />
<line x1="1359.09" y1="21.3" x2="1359.09" y2="26.3" stroke="#2e2e2e" stroke-width="1.5" />
<text x="1271.13" y="504.3" font-size="25" text-anchor="middle">10<tspan font-size="16" dy="-11">1</tspan></text>
<line x1="1363.35" y1="471.3" x2="1363.35" y2="462.3" stroke="#2e2e2e" stroke-width="2.1" />
<line x1="1363.35" y1="21.3" x2="1363.35" y2="30.3" stroke="#2e2e2e" stroke-width="2.1" />
<line x1="1391.35" y1="471.3" x2="1391.35" y2="466.3" stroke="#2e2e2e" stroke-width="1.5" />
<line x1="1391.35" y1="21.3" x2="1391.35" y2="26.3" stroke="#2e2e2e" stroke-width="1.5" />
<line x1="1407.73" y1="471.3" x2="1407.73" y2="466.3" stroke="#2e2e2e" stroke-width="1.5" />
<line x1="1407.73" y1="21.3" x2="1407.73" y2="26.3" stroke="#2e2e2e" stroke-width="1.5" />
<line x1="1419.35" y1="471.3" x2="1419.35" y2="466.3" stroke="#2e2e2e" stroke-width="1.5" />
<line x1="1419.35" y1="21.3" x2="1419.35" y2="26.3" stroke="#2e2e2e" stroke-width="1.5" />
<line x1="1428.37" y1="471.3" x2="1428.37" y2="466.3" stroke="#2e2e2e" stroke-width="1.5" />
<line x1="1428.37" y1="21.3" x2="1428.37" y2="26.3" stroke="#2e2e2e" stroke-width="1.5" />
<line x1="1435.73" y1="471.3" x2="1435.73" y2="466.3" stroke="#2e2e2e" stroke-width="1.5" />
<line x1="1435.73" y1="21.3" x2="1435.73" y2="26.3" stroke="#2e2e2e" stroke-width="1.5" />
<line x1="1441.96" y1="471.3" x2="1441.96" y2="466.3" stroke="#2e2e2e" stroke-width="1.5" />
<line x1="1441.96" y1="21.3" x2="1441.96" y2="26.3" stroke="#2e2e2e" stroke-width="1.5" />
<line x1="1447.35" y1="471.3" x2="1447.35" y2="466.3" stroke="#2e2e2e" stroke-width="1.5" />
<line x1="1447.35" y1="21.3" x2="1447.35" y2="26.3" stroke="#2e2e2e" stroke-width="1.5" />
<line x1="1452.11" y1="471.3" x2="1452.11" y2="466.3" stroke="#2e2e2e" stroke-width="1.5" />
<line x1="1452.11" y1="21.3" x2="1452.11" y2="26.3" stroke="#2e2e2e" stroke-width="1.5" />
<text x="1364.15" y="504.3" font-size="25" text-anchor="middle">10<tspan font-size="16" dy="-11">2</tspan></text>
<line x1="1456.37" y1="471.3" x2="1456.37" y2="462.3" stroke="#2e2e2e" stroke-width="2.1" />
<line x1="1456.37" y1="21.3" x2="1456.37" y2="30.3" stroke="#2e2e2e" stroke-width="2.1" />
<line x1="1484.37" y1="471.3" x2="1484.37" y2="466.3" stroke="#2e2e2e" stroke-width="1.5" />
<line x1="1484.37" y1="21.3" x2="1484.37" y2="26.3" stroke="#2e2e2e" stroke-width="1.5" />
<line x1="1500.75" y1="471.3" x2="1500.75" y2="466.3" stroke="#2e2e2e" stroke-width="1.5" />
<line x1="1500.75" y1="21.3" x2="1500.75" y2="26.3" stroke="#2e2e2e" stroke-width="1.5" />
<line x1="1512.37" y1="471.3" x2="1512.37" y2="466.3" stroke="#2e2e2e" stroke-width="1.5" />
<line x1="1512.37" y1="21.3" x2="1512.37" y2="26.3" stroke="#2e2e2e" stroke-width="1.5" />
<line x1="1521.38" y1="471.3" x2="1521.38" y2="466.3" stroke="#2e2e2e" stroke-width="1.5" />
<line x1="1521.38" y1="21.3" x2="1521.38" y2="26.3" stroke="#2e2e2e" stroke-width="1.5" />
<line x1="1528.75" y1="471.3" x2="1528.75" y2="466.3" stroke="#2e2e2e" stroke-width="1.5" />
<line x1="1528.75" y1="21.3" x2="1528.75" y2="26.3" stroke="#2e2e2e" stroke-width="1.5" />
<line x1="1534.97" y1="471.3" x2="1534.97" y2="466.3" stroke="#2e2e2e" stroke-width="1.5" />
<line x1="1534.97" y1="21.3" x2="1534.97" y2="26.3" stroke="#2e2e2e" stroke-width="1.5" />
<line x1="1540.37" y1="471.3" x2="1540.37" y2="466.3" stroke="#2e2e2e" stroke-width="1.5" />
<line x1="1540.37" y1="21.3" x2="1540.37" y2="26.3" stroke="#2e2e2e" stroke-width="1.5" />
<line x1="1545.13" y1="471.3" x2="1545.13" y2="466.3" stroke="#2e2e2e" stroke-width="1.5" />
<line x1="1545.13" y1="21.3" x2="1545.13" y2="26.3" stroke="#2e2e2e" stroke-width="1.5" />
<text x="1457.17" y="504.3" font-size="25" text-anchor="middle">10<tspan font-size="16" dy="-11">3</tspan></text>
<line x1="1549.38" y1="471.3" x2="1549.38" y2="462.3" stroke="#2e2e2e" stroke-width="2.1" />
<line x1="1549.38" y1="21.3" x2="1549.38" y2="30.3" stroke="#2e2e2e" stroke-width="2.1" />
<line x1="1577.38" y1="471.3" x2="1577.38" y2="466.3" stroke="#2e2e2e" stroke-width="1.5" />
<line x1="1577.38" y1="21.3" x2="1577.38" y2="26.3" stroke="#2e2e2e" stroke-width="1.5" />
<line x1="1593.76" y1="471.3" x2="1593.76" y2="466.3" stroke="#2e2e2e" stroke-width="1.5" />
<line x1="1593.76" y1="21.3" x2="1593.76" y2="26.3" stroke="#2e2e2e" stroke-width="1.5" />
<line x1="1605.38" y1="471.3" x2="1605.38" y2="466.3" stroke="#2e2e2e" stroke-width="1.5" />
<line x1="1605.38" y1="21.3" x2="1605.38" y2="26.3" stroke="#2e2e2e" stroke-width="1.5" />
<line x1="1614.4" y1="471.3" x2="1614.4" y2="466.3" stroke="#2e2e2e" stroke-width="1.5" />
<line x1="1614.4" y1="21.3" x2="1614.4" y2="26.3" stroke="#2e2e2e" stroke-width="1.5" />
<line x1="1621.76" y1="471.3" x2="1621.76" y2="466.3" stroke="#2e2e2e" stroke-width="1.5" />
<line x1="1621.76" y1="21.3" x2="1621.76" y2="26.3" stroke="#2e2e2e" stroke-width="1.5" />
<line x1="1627.99" y1="471.3" x2="1627.99" y2="466.3" stroke="#2e2e2e" stroke-width="1.5" />
<line x1="1627.99" y1="21.3" x2="1627.99" y2="26.3" stroke="#2e2e2e" stroke-width="1.5" />
<line x1="1633.39" y1="471.3" x2="1633.39" y2="466.3" stroke="#2e2e2e" stroke-width="1.5" />
<line x1="1633.39" y1="21.3" x2="1633.39" y2="26.3" stroke="#2e2e2e" stroke-width="1.5" />
<line x1="1638.14" y1="471.3" x2="1638.14" y2="466.3" stroke="#2e2e2e" stroke-width="1.5" />
<line x1="1638.14" y1="21.3" x2="1638.14" y2="26.3" stroke="#2e2e2e" stroke-width="1.5" />
<text x="1550.18" y="504.3" font-size="25" text-anchor="middle">10<tspan font-size="16" dy="-11">4</tspan></text>
<text x="1643.2" y="504.3" font-size="25" text-anchor="middle">10<tspan font-size="16" dy="-11">5</tspan></text>
<line x1="1084.3" y1="392.68" x2="1093.3" y2="392.68" stroke="#2e2e2e" stroke-width="2.1" />
<text x="1074" y="399.78" font-size="25" text-anchor="end" fill="#000" >150</text>
<line x1="1084.3" y1="217.24" x2="1093.3" y2="217.24" stroke="#2e2e2e" stroke-width="2.1" />
<text x="1074" y="224.34" font-size="25" text-anchor="end" fill="#000" >300</text>
<line x1="1084.3" y1="114.61" x2="1093.3" y2="114.61" stroke="#2e2e2e" stroke-width="2.1" />
<text x="1074" y="121.71" font-size="25" text-anchor="end" fill="#000" >450</text>
<line x1="1084.3" y1="41.8" x2="1093.3" y2="41.8" stroke="#2e2e2e" stroke-width="2.1" />
<text x="1074" y="48.9" font-size="25" text-anchor="end" fill="#000" >600</text>
<line x1="1084.3" y1="456.29" x2="1089.3" y2="456.29" stroke="#2e2e2e" stroke-width="1.5" />
<line x1="1084.3" y1="422.49" x2="1089.3" y2="422.49" stroke="#2e2e2e" stroke-width="1.5" />
<line x1="1084.3" y1="366.01" x2="1089.3" y2="366.01" stroke="#2e2e2e" stroke-width="1.5" />
<line x1="1084.3" y1="341.89" x2="1089.3" y2="341.89" stroke="#2e2e2e" stroke-width="1.5" />
<line x1="1084.3" y1="319.87" x2="1089.3" y2="319.87" stroke="#2e2e2e" stroke-width="1.5" />
<line x1="1084.3" y1="299.61" x2="1089.3" y2="299.61" stroke="#2e2e2e" stroke-width="1.5" />
<line x1="1084.3" y1="280.85" x2="1089.3" y2="280.85" stroke="#2e2e2e" stroke-width="1.5" />
<line x1="1084.3" y1="263.39" x2="1089.3" y2="263.39" stroke="#2e2e2e" stroke-width="1.5" />
<line x1="1084.3" y1="247.05" x2="1089.3" y2="247.05" stroke="#2e2e2e" stroke-width="1.5" />
<line x1="1084.3" y1="231.71" x2="1089.3" y2="231.71" stroke="#2e2e2e" stroke-width="1.5" />
<line x1="1084.3" y1="203.56" x2="1089.3" y2="203.56" stroke="#2e2e2e" stroke-width="1.5" />
<line x1="1084.3" y1="190.57" x2="1089.3" y2="190.57" stroke="#2e2e2e" stroke-width="1.5" />
<line x1="1084.3" y1="178.22" x2="1089.3" y2="178.22" stroke="#2e2e2e" stroke-width="1.5" />
<line x1="1084.3" y1="166.45" x2="1089.3" y2="166.45" stroke="#2e2e2e" stroke-width="1.5" />
<line x1="1084.3" y1="155.2" x2="1089.3" y2="155.2" stroke="#2e2e2e" stroke-width="1.5" />
<line x1="1084.3" y1="144.43" x2="1089.3" y2="144.43" stroke="#2e2e2e" stroke-width="1.5" />
<line x1="1084.3" y1="134.09" x2="1089.3" y2="134.09" stroke="#2e2e2e" stroke-width="1.5" />
<line x1="1084.3" y1="124.17" x2="1089.3" y2="124.17" stroke="#2e2e2e" stroke-width="1.5" />
<line x1="1084.3" y1="105.41" x2="1089.3" y2="105.41" stroke="#2e2e2e" stroke-width="1.5" />
<line x1="1084.3" y1="96.53" x2="1089.3" y2="96.53" stroke="#2e2e2e" stroke-width="1.5" />
<line x1="1084.3" y1="87.95" x2="1089.3" y2="87.95" stroke="#2e2e2e" stroke-width="1.5" />
<line x1="1084.3" y1="79.65" x2="1089.3" y2="79.65" stroke="#2e2e2e" stroke-width="1.5" />
<line x1="1084.3" y1="71.61" x2="1089.3" y2="71.61" stroke="#2e2e2e" stroke-width="1.5" />
<line x1="1084.3" y1="63.82" x2="1089.3" y2="63.82" stroke="#2e2e2e" stroke-width="1.5" />
<line x1="1084.3" y1="56.27" x2="1089.3" y2="56.27" stroke="#2e2e2e" stroke-width="1.5" />
<line x1="1084.3" y1="48.93" x2="1089.3" y2="48.93" stroke="#2e2e2e" stroke-width="1.5" />
<line x1="1084.3" y1="34.86" x2="1089.3" y2="34.86" stroke="#2e2e2e" stroke-width="1.5" />
<line x1="1084.3" y1="28.11" x2="1089.3" y2="28.11" stroke="#2e2e2e" stroke-width="1.5" />
<line x1="1642.4" y1="37.3" x2="1633.4" y2="37.3" stroke="#5580c6" stroke-width="1.7" />
<text x="1652" y="44.7" font-size="24.6" text-anchor="start" fill="#4574bf" >0</text>
<line x1="1642.4" y1="116.15" x2="1633.4" y2="116.15" stroke="#5580c6" stroke-width="1.7" />
<text x="1652" y="123.55" font-size="24.6" text-anchor="start" fill="#4574bf" >-10</text>
<line x1="1642.4" y1="195" x2="1633.4" y2="195" stroke="#5580c6" stroke-width="1.7" />
<text x="1652" y="202.4" font-size="24.6" text-anchor="start" fill="#4574bf" >-20</text>
<line x1="1642.4" y1="273.85" x2="1633.4" y2="273.85" stroke="#5580c6" stroke-width="1.7" />
<text x="1652" y="281.25" font-size="24.6" text-anchor="start" fill="#4574bf" >-30</text>
<line x1="1642.4" y1="352.7" x2="1633.4" y2="352.7" stroke="#5580c6" stroke-width="1.7" />
<text x="1652" y="360.1" font-size="24.6" text-anchor="start" fill="#4574bf" >-40</text>
<line x1="1642.4" y1="431.55" x2="1633.4" y2="431.55" stroke="#5580c6" stroke-width="1.7" />
<text x="1652" y="438.95" font-size="24.6" text-anchor="start" fill="#4574bf" >-50</text>
<line x1="1642.4" y1="76.72" x2="1637.4" y2="76.72" stroke="#5580c6" stroke-width="1.5" />
<line x1="1642.4" y1="155.57" x2="1637.4" y2="155.57" stroke="#5580c6" stroke-width="1.5" />
<line x1="1642.4" y1="234.43" x2="1637.4" y2="234.43" stroke="#5580c6" stroke-width="1.5" />
<line x1="1642.4" y1="313.27" x2="1637.4" y2="313.27" stroke="#5580c6" stroke-width="1.5" />
<line x1="1642.4" y1="392.12" x2="1637.4" y2="392.12" stroke="#5580c6" stroke-width="1.5" />
<line x1="1642.4" y1="470.98" x2="1637.4" y2="470.98" stroke="#5580c6" stroke-width="1.5" />
<text x="1363" y="552" font-size="33.3" text-anchor="middle" fill="#000" >Frequency (Hz)</text>
<text x="1006" y="239" font-size="32" text-anchor="middle" fill="#000" transform="rotate(-90 1006 239)" >Z (<tspan font-family="'Liberation Serif', serif">&#937;</tspan>)</text>
<text x="1724" y="247" font-size="34" text-anchor="middle" fill="#4574bf" transform="rotate(-90 1724 247)" >Phase</text>
</g>
<g id="panel-c">
<text x="11" y="679" font-size="46.5" text-anchor="start" fill="#000" >c</text>
<line x1="177.5" y1="649.6" x2="735.9" y2="649.6" stroke="#2e2e2e" stroke-width="2.1" />
<line x1="177.5" y1="649.6" x2="177.5" y2="1099.6" stroke="#2e2e2e" stroke-width="2.1" />
<line x1="176.7" y1="1099.6" x2="736.7" y2="1099.6" stroke="#2e2e2e" stroke-width="2.1" />
<line x1="735.9" y1="649.6" x2="735.9" y2="1099.6" stroke="#2e2e2e" stroke-width="2.1" />
<line x1="224.4" y1="1099.6" x2="224.4" y2="1090.6" stroke="#2e2e2e" stroke-width="1.8" />
<line x1="317.38" y1="1099.6" x2="317.38" y2="1090.6" stroke="#2e2e2e" stroke-width="1.8" />
<line x1="410.36" y1="1099.6" x2="410.36" y2="1090.6" stroke="#2e2e2e" stroke-width="1.8" />
<line x1="503.34" y1="1099.6" x2="503.34" y2="1090.6" stroke="#2e2e2e" stroke-width="1.8" />
<line x1="596.32" y1="1099.6" x2="596.32" y2="1090.6" stroke="#2e2e2e" stroke-width="1.8" />
<line x1="689.3" y1="1099.6" x2="689.3" y2="1090.6" stroke="#2e2e2e" stroke-width="1.8" />
<line x1="270.89" y1="1099.6" x2="270.89" y2="1094.6" stroke="#2e2e2e" stroke-width="1.8" />
<line x1="363.87" y1="1099.6" x2="363.87" y2="1094.6" stroke="#2e2e2e" stroke-width="1.8" />
<line x1="456.85" y1="1099.6" x2="456.85" y2="1094.6" stroke="#2e2e2e" stroke-width="1.8" />
<line x1="549.83" y1="1099.6" x2="549.83" y2="1094.6" stroke="#2e2e2e" stroke-width="1.8" />
<line x1="642.81" y1="1099.6" x2="642.81" y2="1094.6" stroke="#2e2e2e" stroke-width="1.8" />
<line x1="224.4" y1="649.6" x2="224.4" y2="658.6" stroke="#2e2e2e" stroke-width="1.8" />
<line x1="317.38" y1="649.6" x2="317.38" y2="658.6" stroke="#2e2e2e" stroke-width="1.8" />
<line x1="410.36" y1="649.6" x2="410.36" y2="658.6" stroke="#2e2e2e" stroke-width="1.8" />
<line x1="503.34" y1="649.6" x2="503.34" y2="658.6" stroke="#2e2e2e" stroke-width="1.8" />
<line x1="596.32" y1="649.6" x2="596.32" y2="658.6" stroke="#2e2e2e" stroke-width="1.8" />
<line x1="689.3" y1="649.6" x2="689.3" y2="658.6" stroke="#2e2e2e" stroke-width="1.8" />
<line x1="270.89" y1="649.6" x2="270.89" y2="654.6" stroke="#2e2e2e" stroke-width="1.8" />
<line x1="363.87" y1="649.6" x2="363.87" y2="654.6" stroke="#2e2e2e" stroke-width="1.8" />
<line x1="456.85" y1="649.6" x2="456.85" y2="654.6" stroke="#2e2e2e" stroke-width="1.8" />
<line x1="549.83" y1="649.6" x2="549.83" y2="654.6" stroke="#2e2e2e" stroke-width="1.8" />
<line x1="642.81" y1="649.6" x2="642.81" y2="654.6" stroke="#2e2e2e" stroke-width="1.8" />
<line x1="177.5" y1="1033" x2="186.5" y2="1033" stroke="#2e2e2e" stroke-width="1.8" />
<line x1="177.5" y1="944.1" x2="186.5" y2="944.1" stroke="#2e2e2e" stroke-width="1.8" />
<line x1="177.5" y1="855.2" x2="186.5" y2="855.2" stroke="#2e2e2e" stroke-width="1.8" />
<line x1="177.5" y1="766.3" x2="186.5" y2="766.3" stroke="#2e2e2e" stroke-width="1.8" />
<line x1="177.5" y1="677.4" x2="186.5" y2="677.4" stroke="#2e2e2e" stroke-width="1.8" />
<line x1="177.5" y1="1077.45" x2="182.5" y2="1077.45" stroke="#2e2e2e" stroke-width="1.8" />
<line x1="177.5" y1="988.55" x2="182.5" y2="988.55" stroke="#2e2e2e" stroke-width="1.8" />
<line x1="177.5" y1="899.65" x2="182.5" y2="899.65" stroke="#2e2e2e" stroke-width="1.8" />
<line x1="177.5" y1="810.75" x2="182.5" y2="810.75" stroke="#2e2e2e" stroke-width="1.8" />
<line x1="177.5" y1="721.85" x2="182.5" y2="721.85" stroke="#2e2e2e" stroke-width="1.8" />
<line x1="735.9" y1="1033" x2="726.9" y2="1033" stroke="#2e2e2e" stroke-width="1.8" />
<line x1="735.9" y1="944.1" x2="726.9" y2="944.1" stroke="#2e2e2e" stroke-width="1.8" />
<line x1="735.9" y1="855.2" x2="726.9" y2="855.2" stroke="#2e2e2e" stroke-width="1.8" />
<line x1="735.9" y1="766.3" x2="726.9" y2="766.3" stroke="#2e2e2e" stroke-width="1.8" />
<line x1="735.9" y1="677.4" x2="726.9" y2="677.4" stroke="#2e2e2e" stroke-width="1.8" />
<line x1="735.9" y1="1077.45" x2="730.9" y2="1077.45" stroke="#2e2e2e" stroke-width="1.8" />
<line x1="735.9" y1="988.55" x2="730.9" y2="988.55" stroke="#2e2e2e" stroke-width="1.8" />
<line x1="735.9" y1="899.65" x2="730.9" y2="899.65" stroke="#2e2e2e" stroke-width="1.8" />
<line x1="735.9" y1="810.75" x2="730.9" y2="810.75" stroke="#2e2e2e" stroke-width="1.8" />
<line x1="735.9" y1="721.85" x2="730.9" y2="721.85" stroke="#2e2e2e" stroke-width="1.8" />
<text x="224.4" y="1128.8" font-size="25" text-anchor="middle" fill="#000" >0</text>
<text x="317.38" y="1128.8" font-size="25" text-anchor="middle" fill="#000" >10</text>
<text x="410.36" y="1128.8" font-size="25" text-anchor="middle" fill="#000" >20</text>
<text x="503.34" y="1128.8" font-size="25" text-anchor="middle" fill="#000" >30</text>
<text x="596.32" y="1128.8" font-size="25" text-anchor="middle" fill="#000" >40</text>
<text x="689.3" y="1128.8" font-size="25" text-anchor="middle" fill="#000" >50</text>
<text x="167.3" y="1039.4" font-size="25" text-anchor="end" fill="#000" >0.9</text>
<text x="167.3" y="950.5" font-size="25" text-anchor="end" fill="#000" >1.0</text>
<text x="167.3" y="861.6" font-size="25" text-anchor="end" fill="#000" >1.1</text>
<text x="167.3" y="772.7" font-size="25" text-anchor="end" fill="#000" >1.2</text>
<text x="167.3" y="683.8" font-size="25" text-anchor="end" fill="#000" >1.3</text>
<text x="456" y="1177.5" font-size="33.3" text-anchor="middle" fill="#000" >Day</text>
<text x="116" y="864" font-size="34" text-anchor="middle" transform="rotate(-90 116 864)">R/R<tspan font-size="21" dy="7">0</tspan></text>
<path d="M233.23 942.5 L317.38 921.7 L689.3 854.5" stroke="#000" stroke-width="3.2" fill="none" stroke-linejoin="round" stroke-linecap="round" />
<line x1="317.38" y1="881.6" x2="317.38" y2="961.8" stroke="#000" stroke-width="5.5" />
<line x1="313.13" y1="881.6" x2="321.63" y2="881.6" stroke="#000" stroke-width="4.5" stroke-linecap="round"/>
<line x1="313.13" y1="961.8" x2="321.63" y2="961.8" stroke="#000" stroke-width="4.5" stroke-linecap="round"/>
<line x1="689.3" y1="812.2" x2="689.3" y2="894.9" stroke="#000" stroke-width="5.5" />
<line x1="685.05" y1="812.2" x2="693.55" y2="812.2" stroke="#000" stroke-width="4.5" stroke-linecap="round"/>
<line x1="685.05" y1="894.9" x2="693.55" y2="894.9" stroke="#000" stroke-width="4.5" stroke-linecap="round"/>
<rect x="225.43" y="934.7" width="15.6" height="15.6" fill="#000"/>
<rect x="309.58" y="913.9" width="15.6" height="15.6" fill="#000"/>
<rect x="681.5" y="846.7" width="15.6" height="15.6" fill="#000"/>
<path d="M233.23 942.5 C263.23 921 287.38 908 317.38 897.8 C407.38 868 559.3 819 689.3 775.8" stroke="#3f6fc6" stroke-width="3.2" fill="none"/>
<line x1="317.38" y1="871.6" x2="317.38" y2="924" stroke="#3f6fc6" stroke-width="6" />
<line x1="313.13" y1="871.6" x2="321.63" y2="871.6" stroke="#3f6fc6" stroke-width="4.5" stroke-linecap="round"/>
<line x1="313.13" y1="924" x2="321.63" y2="924" stroke="#3f6fc6" stroke-width="4.5" stroke-linecap="round"/>
<line x1="689.3" y1="696" x2="689.3" y2="855" stroke="#3f6fc6" stroke-width="6.3" />
<line x1="685.05" y1="696" x2="693.55" y2="696" stroke="#3f6fc6" stroke-width="4.5" stroke-linecap="round"/>
<line x1="685.05" y1="855" x2="693.55" y2="855" stroke="#3f6fc6" stroke-width="4.5" stroke-linecap="round"/>
<circle cx="233.23" cy="942.5" r="8.6" fill="#3f6fc6"/>
<circle cx="317.38" cy="897.8" r="8.6" fill="#3f6fc6"/>
<circle cx="689.3" cy="775.8" r="8.6" fill="#3f6fc6"/>
<line x1="689.3" y1="812.2" x2="689.3" y2="894.9" stroke="#000" stroke-width="5.5" />
<line x1="685.05" y1="812.2" x2="693.55" y2="812.2" stroke="#000" stroke-width="4.5" stroke-linecap="round"/>
<line x1="685.05" y1="894.9" x2="693.55" y2="894.9" stroke="#000" stroke-width="4.5" stroke-linecap="round"/>
<rect x="681.5" y="846.7" width="15.6" height="15.6" fill="#000"/>
<rect x="309.58" y="913.9" width="15.6" height="15.6" fill="#000"/>
<line x1="313.13" y1="881.6" x2="321.63" y2="881.6" stroke="#000" stroke-width="4.5" stroke-linecap="round"/>
<line x1="313.13" y1="961.8" x2="321.63" y2="961.8" stroke="#000" stroke-width="4.5" stroke-linecap="round"/>
<path d="M233.23 942.5 L317.38 948.7 L689.3 966.7" stroke="#b4283a" stroke-width="3.2" fill="none" stroke-linejoin="round" stroke-linecap="round" />
<line x1="317.38" y1="863.1" x2="317.38" y2="1033.4" stroke="#b4283a" stroke-width="6.8" />
<line x1="313.13" y1="863.1" x2="321.63" y2="863.1" stroke="#b4283a" stroke-width="4.5" stroke-linecap="round"/>
<line x1="313.13" y1="1033.4" x2="321.63" y2="1033.4" stroke="#b4283a" stroke-width="4.5" stroke-linecap="round"/>
<line x1="689.3" y1="855" x2="689.3" y2="1081.5" stroke="#b4283a" stroke-width="6.8" />
<line x1="685.05" y1="855" x2="693.55" y2="855" stroke="#b4283a" stroke-width="4.5" stroke-linecap="round"/>
<line x1="685.05" y1="1081.5" x2="693.55" y2="1081.5" stroke="#b4283a" stroke-width="4.5" stroke-linecap="round"/>
<path d="M233.23 932.1 L243.98 948.87 L222.48 948.87 Z" fill="#b4283a"/>
<path d="M317.38 938.3 L328.13 955.07 L306.63 955.07 Z" fill="#b4283a"/>
<path d="M689.3 956.3 L700.05 973.07 L678.55 973.07 Z" fill="#b4283a"/>
<rect x="313.38" y="934" width="8" height="14" fill="#000"/>
<rect x="215.3" y="648.9" width="477.5" height="33.3" fill="#fff" stroke="#929292" stroke-width="1.3"/>
<line x1="216.5" y1="666" x2="270.4" y2="666" stroke="#000" stroke-width="3.2" />
<rect x="236" y="658.2" width="15.6" height="15.6" fill="#000"/>
<text x="276.5" y="673.5" font-size="23.4" text-anchor="start" fill="#222" >Saponin-free Air</text>
<line x1="451" y1="666" x2="503.5" y2="666" stroke="#3f6fc6" stroke-width="3.2" />
<circle cx="477.5" cy="666" r="8.6" fill="#3f6fc6"/>
<text x="509.5" y="673.5" font-size="23.4" text-anchor="start" fill="#222" >Air</text>
<line x1="544.4" y1="666" x2="599" y2="666" stroke="#b4283a" stroke-width="3.2" />
<path d="M571.5 656.36 L582.5 673.52 L560.5 673.52 Z" fill="#b4283a"/>
<text x="605" y="673.5" font-size="23.4" text-anchor="start" fill="#222" >Vacuum</text>
</g>
<g id="panel-d">
<text x="1033" y="647" font-size="46.5" text-anchor="start" fill="#000" >d</text>
<defs>
<filter id="bl1" color-interpolation-filters="sRGB" x="-10%" y="-10%" width="120%" height="120%"><feGaussianBlur stdDeviation="1.1"/></filter>
<filter id="bl2" color-interpolation-filters="sRGB" x="-20%" y="-20%" width="140%" height="140%"><feGaussianBlur stdDeviation="3"/></filter>
<filter id="bl3" color-interpolation-filters="sRGB" x="-30%" y="-30%" width="160%" height="160%"><feGaussianBlur stdDeviation="6"/></filter>
<filter id="bl4" color-interpolation-filters="sRGB" x="-50%" y="-50%" width="200%" height="200%"><feGaussianBlur stdDeviation="14"/></filter>
<linearGradient id="gcyl" x1="0" y1="0" x2="0" y2="1"><stop offset="0" stop-color="#7d7d79"/><stop offset="0.4" stop-color="#6a6c69"/><stop offset="0.8" stop-color="#585a58"/><stop offset="0.92" stop-color="#9a9c9c"/><stop offset="1" stop-color="#4a4a48"/></linearGradient>
<linearGradient id="gfac" x1="0" y1="0" x2="0" y2="1"><stop offset="0" stop-color="#5e5d55"/><stop offset="1" stop-color="#8d8d85"/></linearGradient>
<linearGradient id="gfac2" x1="0" y1="0" x2="0" y2="1"><stop offset="0" stop-color="#96968e"/><stop offset="1" stop-color="#65655e"/></linearGradient>
<clipPath id="clipd"><rect x="0" y="0" width="454" height="605"/></clipPath>
</defs>
<g transform="translate(1110 600)" clip-path="url(#clipd)">
<rect x="0" y="0" width="454" height="605" rx="0" fill="#cacabf" />
<g filter="url(#bl4)">
<rect x="0" y="140" width="200" height="230" rx="0" fill="#d9d8d0" />
<rect x="150" y="100" width="90" height="140" rx="0" fill="#e6e5e0" />
<rect x="235" y="100" width="140" height="50" rx="0" fill="#e4e4de" />
<rect x="236" y="200" width="30" height="140" rx="0" fill="#dcdcd6" />
<rect x="330" y="540" width="90" height="70" rx="0" fill="#e0e0dc" />
</g>
<g filter="url(#bl2)">
<rect x="218" y="100" width="17" height="330" rx="0" fill="#938b82" />
<rect x="207" y="320" width="11" height="100" rx="0" fill="#d68888" />
<path d="M62 153 L101 154 L130 176 L129 186 L87 174 L68 161 Z" fill="#b3101e" />
<path d="M40 140 C41 146.67 43.5 165 46 180 C48.5 195 51.33 213.33 55 230 C58.67 246.67 63.83 266.67 68 280 C72.17 293.33 78 305 80 310" stroke="#85857c" stroke-width="6" fill="none" stroke-linecap="round" />
<path d="M130 185 C133.33 187.5 143 195.17 150 200 C157 204.83 163.67 208.67 172 214 C180.33 219.33 195.33 229 200 232" stroke="#8f8f88" stroke-width="5" fill="none" stroke-linecap="round" />
<path d="M196 224 L214 222 L219 262 L216 305 L204 306 L198 268 Z" fill="#d32234" />
<path d="M205 205 L214 205 L215 232 L207 232 Z" fill="#3446c0" />
<path d="M186 150 C187.17 153.33 190.67 163.33 193 170 C195.33 176.67 197.67 183 200 190 C202.33 197 205.83 208.33 207 212" stroke="#a3a8d6" stroke-width="5" fill="none" stroke-linecap="round" />
<rect x="222" y="118" width="12" height="18" rx="0" fill="#e55a5a" />
<rect x="250" y="328" width="170" height="50" rx="14" fill="#a9adb0" />
<circle cx="262" cy="343" r="13" fill="#15171a" />
<circle cx="298" cy="346" r="13" fill="#15171a" />
<circle cx="331" cy="349" r="13" fill="#1b1d20" />
<circle cx="370" cy="348" r="13" fill="#0f1012" />
<circle cx="408" cy="349" r="8" fill="#f2f2f2" />
<rect x="300" y="380" width="110" height="35" rx="0" fill="#b8bcbc" />
</g>
<g filter="url(#bl1)">
<circle cx="434" cy="348" r="7.5" fill="#f0202a" />
<path d="M445 160 C444.33 169.17 443.17 193.33 441 215 C438.83 236.67 435.17 264.83 432 290 C428.83 315.17 423.67 353.33 422 366" stroke="#0d0d0b" stroke-width="9" fill="none" stroke-linecap="round" />
<path d="M281 128 C280 130.5 277.83 138.33 275 143 C272.17 147.67 270.33 150 264 156 C257.67 162 246.17 171.83 237 179 C227.83 186.17 218.17 192.33 209 199 C199.83 205.67 189.17 212.33 182 219 C174.83 225.67 170 232.17 166 239 C162 245.83 158.83 252.83 158 260 C157.17 267.17 158.67 275.17 161 282 C163.33 288.83 167.17 295 172 301 C176.83 307 182.33 312 190 318 C197.67 324 208.33 331.33 218 337 C227.67 342.67 239.67 347.33 248 352 C256.33 356.67 264.67 362.83 268 365" stroke="#85857e" stroke-width="10.5" fill="none" stroke-linecap="round" />
<path d="M281 128 C280 130.5 277.83 138.33 275 143 C272.17 147.67 270.33 150 264 156 C257.67 162 246.17 171.83 237 179 C227.83 186.17 218.17 192.33 209 199 C199.83 205.67 189.17 212.33 182 219 C174.83 225.67 170 232.17 166 239 C162 245.83 158.83 252.83 158 260 C157.17 267.17 158.67 275.17 161 282 C163.33 288.83 167.17 295 172 301 C176.83 307 182.33 312 190 318 C197.67 324 208.33 331.33 218 337 C227.67 342.67 239.67 347.33 248 352 C256.33 356.67 264.67 362.83 268 365" stroke="#d6d6d0" stroke-width="6.5" fill="none" stroke-linecap="round" />
<path d="M188 315 C187.67 316.67 186.67 321.5 186 325 C185.33 328.5 184.33 334.17 184 336" stroke="#55554e" stroke-width="3.5" fill="none" stroke-linecap="round" />
<path d="M73.5 314 L86 310 L95.7 360 L68 368.6 L55.4 363 Z" fill="#2b1a15" />
<path d="M87.4 270 C86.83 274.33 85.17 287.5 84 296 C82.83 304.5 81 316.83 80.4 321" stroke="#3a3632" stroke-width="3.5" fill="none" stroke-linecap="round" />
<rect x="63" y="348" width="8" height="4" rx="0" fill="#b84a50" />
<rect x="100" y="0" width="354" height="102" rx="0" fill="#181813" />
<circle cx="212" cy="32" r="29" fill="#0d0d0a" />
<circle cx="212" cy="32" r="30" fill="none" stroke="#33332c" stroke-width="2.5"/>
<circle cx="356" cy="33" r="28" fill="#0d0d0a" />
<circle cx="356" cy="33" r="29" fill="none" stroke="#33332c" stroke-width="2.5"/>
<rect x="178" y="80" width="70" height="22" rx="0" fill="#2e2a22" />
<path d="M0 120 L142 125 L174 96 L184 106 L180 135 L156 152 L101 147 L0 141 Z" fill="url(#gfac)" />
<path d="M142 125 L174 96 L184 106 L180 135 L156 152 Z" fill="#55554d" />
<path d="M0 0 L108 0 L108 30 L120 46 L170 50 L172 96 L142 126 L0 121 Z" fill="#0e0e0c" />
<rect x="114" y="8" width="62" height="38" rx="16" fill="#6f6d62" filter="url(#bl3)"/>
<rect x="244" y="0" width="83" height="106" rx="0" fill="#1b1b16" />
<rect x="243" y="0" width="2.6" height="106" rx="0" fill="#c9c9c2" />
<rect x="325" y="0" width="2.6" height="106" rx="0" fill="#c9c9c2" />
<path d="M242 108 L322 108 L321 112 L309 135 L242 135 Z" fill="#2b2b27" />
<path d="M262 8 C263.33 10.33 267.67 17.67 270 22 C272.33 26.33 275 32 276 34" stroke="#6a6a66" stroke-width="3" fill="none" stroke-linecap="round" />
<path d="M362 105.5 L394 100 L424.5 134.7 L391 157 L373 147 L363 129 Z" fill="#5b5951" />
<path d="M424.5 134.7 L454 136 L454 160 L391 157 Z" fill="#4a4a44" />
<rect x="400" y="17" width="46" height="32" rx="14" fill="#625f56" filter="url(#bl3)"/>
<path d="M396 54 L454 48 L454 136 L424.5 134.7 L394 100 Z" fill="#0a0a0a" />
<path d="M0 370 L157 363 L171 367 L189 405 L185 420 L171 405 L150 387 L0 389.5 Z" fill="url(#gfac2)" />
<path d="M0 388 L150 386 L172 404 L180 420 L180 470 L186 480 L186 560 L170 580 L140 605 L0 605 Z" fill="#0b0b0a" />
<path d="M129 584 L171 581 L171 605 L129 605 Z" fill="#94948c" />
<rect x="178" y="414" width="230" height="40" rx="0" fill="url(#gcyl)" />
<rect x="178" y="453" width="230" height="90" rx="0" fill="#2c2d2a" />
<circle cx="219.6" cy="489" r="36" fill="#0a0b0b" />
<circle cx="219.6" cy="489" r="36" fill="none" stroke="#44443f" stroke-width="3"/>
<circle cx="360.5" cy="489" r="30" fill="#0a0b09" />
<circle cx="360.5" cy="489" r="31" fill="none" stroke="#4a4c48" stroke-width="3"/>
<rect x="178" y="536" width="165" height="70" rx="0" fill="#3a3a33" />
<rect x="196" y="540" width="46" height="66" rx="0" fill="#5d5d57" filter="url(#bl2)"/>
<rect x="180" y="537" width="19" height="31" rx="0" fill="#4556a3" filter="url(#bl2)"/>
<path d="M345 539 L377 539 L412 605 L338 605 Z" fill="#dadad6" />
<rect x="331" y="393.6" width="35" height="21" rx="0" fill="#4a4a46" />
<path d="M246.4 384 L314.6 386.7 L332.7 414.5 L247.8 413 Z" fill="#8c8c86" />
<path d="M266 392 L286 392 L290 408 L268 408 Z" fill="#b39473" />
<rect x="245" y="384" width="2.4" height="30" rx="0" fill="#d0d0cc" />
<path d="M314.6 386.7 C317.62 391.33 329.68 409.87 332.7 414.5" stroke="#d0d0cc" stroke-width="2" fill="none" stroke-linecap="round" />
<rect x="244.5" y="410" width="87" height="174" rx="0" fill="#0c0e0c" />
<path d="M370 388 L394 371.4 L421.7 370 L435.7 391 L401 427 L382.8 418.7 Z" fill="#8b8781" />
<path d="M435.7 391 L454 389.5 L454 605 L412 605 L377 539 L392 530 L394 470 L401 427 Z" fill="#0e0e0c" />
<path d="M396 472 L454 468 L454 535 L392 532 Z" fill="#24241d" />
</g>
</g>
</g>
<g id="panel-e">
<text x="0.5" y="1314" font-size="46.5" text-anchor="start" fill="#000" >e</text>
<path d="M177.96 1497.09 C178.94 1497.71 184.19 1501.45 186.41 1502.37 C188.62 1503.3 194.5 1505.94 196.97 1505.01 C199.43 1504.09 205.07 1496.3 207.53 1494.45 C210 1492.6 215.63 1489.94 218.09 1489.17 C220.56 1488.4 226.19 1488.31 228.66 1487.85 C231.12 1487.39 236.75 1485.83 239.22 1485.21 C241.68 1484.59 247.32 1482.57 249.78 1482.57 C252.25 1482.57 257.88 1484.75 260.34 1485.21 C262.81 1485.67 268.44 1486.53 270.91 1486.53 C273.37 1486.53 279 1485.06 281.47 1485.21 C283.93 1485.36 289.57 1488.07 292.03 1487.85 C294.5 1487.63 300.13 1483.98 302.59 1483.36 C305.06 1482.75 310.69 1483.12 313.16 1482.57 C315.62 1482.01 321.25 1479.69 323.72 1478.61 C326.18 1477.53 331.82 1474.41 334.28 1473.33 C336.75 1472.25 342.38 1470.14 344.84 1469.37 C347.31 1468.6 352.94 1466.94 355.41 1466.73 C357.87 1466.51 363.5 1467.67 365.97 1467.52 C368.43 1467.36 374.07 1464.88 376.53 1465.41 C378.99 1465.93 384.63 1470.77 387.09 1472.01 C389.56 1473.24 395.19 1475.81 397.66 1475.97 C400.12 1476.12 405.75 1473.79 408.22 1473.33 C410.68 1472.87 416.32 1472.01 418.78 1472.01 C421.24 1472.01 426.88 1473.94 429.34 1473.33 C431.81 1472.71 437.49 1467.8 439.9 1466.73 C442.31 1465.65 447.59 1464.61 450 1464.09 C452.41 1463.56 458.1 1462.64 460.56 1462.24 C463.03 1461.84 468.66 1461.05 471.12 1460.65 C473.59 1460.25 479.22 1459.24 481.69 1458.8 C484.15 1458.37 489.79 1456.74 492.25 1456.96 C494.71 1457.17 500.35 1460.74 502.81 1460.65 C505.28 1460.56 510.91 1456.47 513.37 1456.16 C515.84 1455.86 521.47 1458.17 523.94 1458.01 C526.4 1457.86 532.04 1455.37 534.5 1454.84 C536.96 1454.32 542.6 1453.83 545.06 1453.52 C547.53 1453.21 553.16 1452.29 555.62 1452.2 C558.09 1452.11 563.72 1453.04 566.19 1452.73 C568.65 1452.42 574.28 1449.68 576.75 1449.56 C579.21 1449.44 584.85 1451.74 587.31 1451.67 C589.78 1451.61 595.41 1449.13 597.87 1449.03 C600.34 1448.94 605.97 1450.57 608.44 1450.88 C610.9 1451.19 616.53 1452.29 619 1451.67 C621.46 1451.06 627.1 1446.93 629.56 1445.6 C632.03 1444.28 637.66 1441.4 640.12 1440.32 C642.59 1439.24 648.22 1437.13 650.69 1436.36 C653.15 1435.59 658.78 1433.41 661.25 1433.72 C663.71 1434.03 669.35 1438.75 671.81 1439 C674.28 1439.25 679.91 1435.83 682.37 1435.83 C684.84 1435.83 690.47 1438.78 692.94 1439 C695.4 1439.21 701.03 1437.06 703.5 1437.68 C705.96 1438.3 711.35 1443.88 714.06 1444.28 C716.77 1444.68 725.26 1441.48 726.74 1441.11 L726.74 1663.45 C725.26 1663.39 716.77 1663.39 714.06 1662.92 C711.35 1662.46 705.96 1660.04 703.5 1659.49 C701.03 1658.94 695.4 1658.63 692.94 1658.17 C690.47 1657.71 684.84 1655.99 682.37 1655.53 C679.91 1655.07 674.28 1654.06 671.81 1654.21 C669.35 1654.36 663.71 1657 661.25 1656.85 C658.78 1656.7 653.15 1652.58 650.69 1652.89 C648.22 1653.2 642.59 1659.03 640.12 1659.49 C637.66 1659.95 632.03 1657.47 629.56 1656.85 C627.1 1656.23 621.46 1655.13 619 1654.21 C616.53 1653.28 610.9 1650.01 608.44 1648.93 C605.97 1647.85 600.34 1645.74 597.87 1644.97 C595.41 1644.2 589.78 1643.1 587.31 1642.33 C584.85 1641.56 579.21 1639.14 576.75 1638.37 C574.28 1637.6 568.65 1636.03 566.19 1635.72 C563.72 1635.42 558.09 1636.03 555.62 1635.72 C553.16 1635.42 547.53 1633.55 545.06 1633.08 C542.6 1632.62 536.96 1632.07 534.5 1631.76 C532.04 1631.46 526.4 1630.91 523.94 1630.44 C521.47 1629.98 515.84 1628.27 513.37 1627.8 C510.91 1627.34 505.28 1626.79 502.81 1626.48 C500.35 1626.17 495.02 1625.93 492.25 1625.16 C489.48 1624.39 481.82 1619.73 479.05 1619.88 C476.27 1620.04 470.64 1625.87 468.48 1626.48 C466.33 1627.1 462.72 1625.47 460.56 1625.16 C458.41 1624.85 452.41 1624.3 450 1623.84 C447.59 1623.38 442.31 1622.13 439.9 1621.2 C437.49 1620.28 431.81 1616.84 429.34 1615.92 C426.88 1615 421.24 1613.9 418.78 1613.28 C416.32 1612.66 410.68 1611.26 408.22 1610.64 C405.75 1610.02 400.12 1608.77 397.66 1608 C395.19 1607.23 389.56 1604.81 387.09 1604.04 C384.63 1603.27 378.99 1601.86 376.53 1601.4 C374.07 1600.93 368.43 1601 365.97 1600.08 C363.5 1599.15 357.87 1594.86 355.41 1593.48 C352.94 1592.09 347.31 1589.12 344.84 1588.19 C342.38 1587.27 336.75 1586.32 334.28 1585.55 C331.82 1584.78 326.18 1582.67 323.72 1581.59 C321.25 1580.51 315.62 1577.54 313.16 1576.31 C310.69 1575.08 305.06 1572.26 302.59 1571.03 C300.13 1569.8 294.5 1566.98 292.03 1565.75 C289.57 1564.52 283.93 1561.55 281.47 1560.47 C279 1559.39 273.37 1557.58 270.91 1556.51 C268.44 1555.43 262.81 1552.3 260.34 1551.23 C257.88 1550.15 252.25 1548.34 249.78 1547.26 C247.32 1546.19 241.68 1542.75 239.22 1541.98 C236.75 1541.21 231.12 1541.12 228.66 1540.66 C226.19 1540.2 220.56 1539.1 218.09 1538.02 C215.63 1536.94 210 1532.65 207.53 1531.42 C205.07 1530.19 199.43 1529 196.97 1527.46 C194.5 1525.92 188.62 1520.53 186.41 1518.22 C184.19 1515.91 178.94 1508.89 177.96 1507.66 Z" fill="#f3f3f3" stroke="none" />
<path d="M177.96 1497.09 C178.94 1497.71 184.19 1501.45 186.41 1502.37 C188.62 1503.3 194.5 1505.94 196.97 1505.01 C199.43 1504.09 205.07 1496.3 207.53 1494.45 C210 1492.6 215.63 1489.94 218.09 1489.17 C220.56 1488.4 226.19 1488.31 228.66 1487.85 C231.12 1487.39 236.75 1485.83 239.22 1485.21 C241.68 1484.59 247.32 1482.57 249.78 1482.57 C252.25 1482.57 257.88 1484.75 260.34 1485.21 C262.81 1485.67 268.44 1486.53 270.91 1486.53 C273.37 1486.53 279 1485.06 281.47 1485.21 C283.93 1485.36 289.57 1488.07 292.03 1487.85 C294.5 1487.63 300.13 1483.98 302.59 1483.36 C305.06 1482.75 310.69 1483.12 313.16 1482.57 C315.62 1482.01 321.25 1479.69 323.72 1478.61 C326.18 1477.53 331.82 1474.41 334.28 1473.33 C336.75 1472.25 342.38 1470.14 344.84 1469.37 C347.31 1468.6 352.94 1466.94 355.41 1466.73 C357.87 1466.51 363.5 1467.67 365.97 1467.52 C368.43 1467.36 374.07 1464.88 376.53 1465.41 C378.99 1465.93 384.63 1470.77 387.09 1472.01 C389.56 1473.24 395.19 1475.81 397.66 1475.97 C400.12 1476.12 405.75 1473.79 408.22 1473.33 C410.68 1472.87 416.32 1472.01 418.78 1472.01 C421.24 1472.01 426.88 1473.94 429.34 1473.33 C431.81 1472.71 437.49 1467.8 439.9 1466.73 C442.31 1465.65 447.59 1464.61 450 1464.09 C452.41 1463.56 458.1 1462.64 460.56 1462.24 C463.03 1461.84 468.66 1461.05 471.12 1460.65 C473.59 1460.25 479.22 1459.24 481.69 1458.8 C484.15 1458.37 489.79 1456.74 492.25 1456.96 C494.71 1457.17 500.35 1460.74 502.81 1460.65 C505.28 1460.56 510.91 1456.47 513.37 1456.16 C515.84 1455.86 521.47 1458.17 523.94 1458.01 C526.4 1457.86 532.04 1455.37 534.5 1454.84 C536.96 1454.32 542.6 1453.83 545.06 1453.52 C547.53 1453.21 553.16 1452.29 555.62 1452.2 C558.09 1452.11 563.72 1453.04 566.19 1452.73 C568.65 1452.42 574.28 1449.68 576.75 1449.56 C579.21 1449.44 584.85 1451.74 587.31 1451.67 C589.78 1451.61 595.41 1449.13 597.87 1449.03 C600.34 1448.94 605.97 1450.57 608.44 1450.88 C610.9 1451.19 616.53 1452.29 619 1451.67 C621.46 1451.06 627.1 1446.93 629.56 1445.6 C632.03 1444.28 637.66 1441.4 640.12 1440.32 C642.59 1439.24 648.22 1437.13 650.69 1436.36 C653.15 1435.59 658.78 1433.41 661.25 1433.72 C663.71 1434.03 669.35 1438.75 671.81 1439 C674.28 1439.25 679.91 1435.83 682.37 1435.83 C684.84 1435.83 690.47 1438.78 692.94 1439 C695.4 1439.21 701.03 1437.06 703.5 1437.68 C705.96 1438.3 711.35 1443.88 714.06 1444.28 C716.77 1444.68 725.26 1441.48 726.74 1441.11" stroke="#5a5a5a" stroke-width="1.1" fill="none" stroke-linejoin="round" stroke-linecap="butt" />
<path d="M177.96 1507.66 C178.94 1508.89 184.19 1515.91 186.41 1518.22 C188.62 1520.53 194.5 1525.92 196.97 1527.46 C199.43 1529 205.07 1530.19 207.53 1531.42 C210 1532.65 215.63 1536.94 218.09 1538.02 C220.56 1539.1 226.19 1540.2 228.66 1540.66 C231.12 1541.12 236.75 1541.21 239.22 1541.98 C241.68 1542.75 247.32 1546.19 249.78 1547.26 C252.25 1548.34 257.88 1550.15 260.34 1551.23 C262.81 1552.3 268.44 1555.43 270.91 1556.51 C273.37 1557.58 279 1559.39 281.47 1560.47 C283.93 1561.55 289.57 1564.52 292.03 1565.75 C294.5 1566.98 300.13 1569.8 302.59 1571.03 C305.06 1572.26 310.69 1575.08 313.16 1576.31 C315.62 1577.54 321.25 1580.51 323.72 1581.59 C326.18 1582.67 331.82 1584.78 334.28 1585.55 C336.75 1586.32 342.38 1587.27 344.84 1588.19 C347.31 1589.12 352.94 1592.09 355.41 1593.48 C357.87 1594.86 363.5 1599.15 365.97 1600.08 C368.43 1601 374.07 1600.93 376.53 1601.4 C378.99 1601.86 384.63 1603.27 387.09 1604.04 C389.56 1604.81 395.19 1607.23 397.66 1608 C400.12 1608.77 405.75 1610.02 408.22 1610.64 C410.68 1611.26 416.32 1612.66 418.78 1613.28 C421.24 1613.9 426.88 1615 429.34 1615.92 C431.81 1616.84 437.49 1620.28 439.9 1621.2 C442.31 1622.13 447.59 1623.38 450 1623.84 C452.41 1624.3 458.41 1624.85 460.56 1625.16 C462.72 1625.47 466.33 1627.1 468.48 1626.48 C470.64 1625.87 476.27 1620.04 479.05 1619.88 C481.82 1619.73 489.48 1624.39 492.25 1625.16 C495.02 1625.93 500.35 1626.17 502.81 1626.48 C505.28 1626.79 510.91 1627.34 513.37 1627.8 C515.84 1628.27 521.47 1629.98 523.94 1630.44 C526.4 1630.91 532.04 1631.46 534.5 1631.76 C536.96 1632.07 542.6 1632.62 545.06 1633.08 C547.53 1633.55 553.16 1635.42 555.62 1635.72 C558.09 1636.03 563.72 1635.42 566.19 1635.72 C568.65 1636.03 574.28 1637.6 576.75 1638.37 C579.21 1639.14 584.85 1641.56 587.31 1642.33 C589.78 1643.1 595.41 1644.2 597.87 1644.97 C600.34 1645.74 605.97 1647.85 608.44 1648.93 C610.9 1650.01 616.53 1653.28 619 1654.21 C621.46 1655.13 627.1 1656.23 629.56 1656.85 C632.03 1657.47 637.66 1659.95 640.12 1659.49 C642.59 1659.03 648.22 1653.2 650.69 1652.89 C653.15 1652.58 658.78 1656.7 661.25 1656.85 C663.71 1657 669.35 1654.36 671.81 1654.21 C674.28 1654.06 679.91 1655.07 682.37 1655.53 C684.84 1655.99 690.47 1657.71 692.94 1658.17 C695.4 1658.63 701.03 1658.94 703.5 1659.49 C705.96 1660.04 711.35 1662.46 714.06 1662.92 C716.77 1663.39 725.26 1663.39 726.74 1663.45" stroke="#5a5a5a" stroke-width="1.1" fill="none" stroke-linejoin="round" stroke-linecap="butt" />
<path d="M177.96 1499.73 C178.94 1500.5 184.19 1505.41 186.41 1506.33 C188.62 1507.26 194.5 1507.81 196.97 1507.66 C199.43 1507.5 205.07 1505.48 207.53 1505.01 C210 1504.55 215.63 1503.85 218.09 1503.69 C220.56 1503.54 226.19 1503.23 228.66 1503.69 C231.12 1504.16 236.75 1506.95 239.22 1507.66 C241.68 1508.36 247.32 1510.38 249.78 1509.77 C252.25 1509.15 257.88 1503.54 260.34 1502.37 C262.81 1501.2 268.44 1500.29 270.91 1499.73 C273.37 1499.18 279 1498.08 281.47 1497.62 C283.93 1497.16 289.57 1496.14 292.03 1495.77 C294.5 1495.4 300.13 1494.91 302.59 1494.45 C305.06 1493.99 310.69 1492.49 313.16 1491.81 C315.62 1491.13 321.25 1488.95 323.72 1488.64 C326.18 1488.33 332.43 1488.65 334.28 1489.17 C336.13 1489.69 338.33 1492.15 339.56 1493.13 C340.79 1494.12 342.99 1497.77 344.84 1497.62 C346.69 1497.47 352.94 1492.8 355.41 1491.81 C357.87 1490.83 363.5 1489.63 365.97 1489.17 C368.43 1488.71 374.07 1487.91 376.53 1487.85 C378.99 1487.79 384.63 1488.24 387.09 1488.64 C389.56 1489.04 395.19 1491.84 397.66 1491.28 C400.12 1490.73 405.75 1485.06 408.22 1483.89 C410.68 1482.72 416.32 1481.87 418.78 1481.25 C421.24 1480.63 426.88 1479.22 429.34 1478.61 C431.81 1477.99 437.49 1476.28 439.9 1475.97 C442.31 1475.66 447.59 1476.28 450 1475.97 C452.41 1475.66 458.1 1473.79 460.56 1473.33 C463.03 1472.87 468.66 1471.76 471.12 1472.01 C473.59 1472.25 479.22 1474.92 481.69 1475.44 C484.15 1475.96 489.79 1476.5 492.25 1476.5 C494.71 1476.5 500.35 1476.12 502.81 1475.44 C505.28 1474.76 510.91 1471.49 513.37 1470.69 C515.84 1469.89 521.47 1468.27 523.94 1468.57 C526.4 1468.88 532.04 1472 534.5 1473.33 C536.96 1474.65 543.06 1478.63 545.06 1479.93 C547.06 1481.22 549.82 1485.8 551.66 1484.42 C553.51 1483.03 558.6 1470.33 560.91 1468.05 C563.22 1465.77 569 1465.03 571.47 1464.88 C573.93 1464.72 579.26 1465.74 582.03 1466.73 C584.8 1467.71 592.15 1473.17 595.23 1473.33 C598.31 1473.48 605.66 1469.12 608.44 1468.05 C611.21 1466.97 616.53 1464.95 619 1464.09 C621.46 1463.22 627.1 1460.65 629.56 1460.65 C632.03 1460.65 637.66 1463.84 640.12 1464.09 C642.59 1464.33 648.22 1462.36 650.69 1462.76 C653.15 1463.17 658.78 1467.27 661.25 1467.52 C663.71 1467.76 669.35 1465.59 671.81 1464.88 C674.28 1464.17 679.91 1461.38 682.37 1461.44 C684.84 1461.51 690.47 1465.5 692.94 1465.41 C695.4 1465.31 701.03 1462.19 703.5 1460.65 C705.96 1459.11 711.35 1453.5 714.06 1452.2 C716.77 1450.91 725.26 1449.87 726.74 1449.56 L726.74 1553.07 C725.26 1553.17 717.08 1553.62 714.06 1553.87 C711.04 1554.11 703.94 1555.19 700.86 1555.19 C697.78 1555.19 690.43 1553.71 687.66 1553.87 C684.88 1554.02 679.56 1556.04 677.09 1556.51 C674.63 1556.97 668.99 1557.21 666.53 1557.83 C664.07 1558.44 659.05 1561.94 655.97 1561.79 C652.89 1561.63 643.2 1556.81 640.12 1556.51 C637.04 1556.2 632.03 1559.3 629.56 1559.15 C627.1 1558.99 621.46 1555.96 619 1555.19 C616.53 1554.42 610.9 1552.55 608.44 1552.55 C605.97 1552.55 600.34 1554.72 597.87 1555.19 C595.41 1555.65 589.78 1555.89 587.31 1556.51 C584.85 1557.12 579.21 1559.54 576.75 1560.47 C574.28 1561.39 568.65 1565.11 566.19 1564.43 C563.72 1563.75 558.09 1555.89 555.62 1554.66 C553.16 1553.43 547.53 1553.74 545.06 1553.87 C542.6 1553.99 536.96 1555.1 534.5 1555.71 C532.04 1556.33 526.4 1558.59 523.94 1559.15 C521.47 1559.7 515.84 1560.01 513.37 1560.47 C510.91 1560.93 505.58 1562.86 502.81 1563.11 C500.04 1563.35 492.69 1562.43 489.61 1562.58 C486.53 1562.73 479.49 1563.6 476.41 1564.43 C473.33 1565.26 466.28 1570.17 463.2 1569.71 C460.12 1569.25 452.72 1561.85 450 1560.47 C447.28 1559.08 442.31 1558.13 439.9 1557.83 C437.49 1557.52 431.81 1557.36 429.34 1557.83 C426.88 1558.29 421.24 1561.17 418.78 1561.79 C416.32 1562.4 410.68 1562.8 408.22 1563.11 C405.75 1563.42 400.12 1564.43 397.66 1564.43 C395.19 1564.43 389.56 1563.72 387.09 1563.11 C384.63 1562.49 378.99 1559.61 376.53 1559.15 C374.07 1558.68 368.43 1559.3 365.97 1559.15 C363.5 1558.99 357.87 1558.44 355.41 1557.83 C352.94 1557.21 347.31 1554.64 344.84 1553.87 C342.38 1553.1 336.75 1551.84 334.28 1551.23 C331.82 1550.61 326.18 1548.58 323.72 1548.58 C321.25 1548.58 315.62 1550.92 313.16 1551.23 C310.69 1551.53 305.06 1551.38 302.59 1551.23 C300.13 1551.07 294.5 1550.37 292.03 1549.9 C289.57 1549.44 283.93 1547.57 281.47 1547.26 C279 1546.96 272.75 1547.57 270.91 1547.26 C269.06 1546.96 267.16 1546.63 265.62 1544.62 C264.08 1542.62 259.55 1531.64 257.7 1530.1 C255.85 1528.56 251.94 1530.34 249.78 1531.42 C247.62 1532.5 241.68 1537.49 239.22 1539.34 C236.75 1541.19 231.12 1546.8 228.66 1547.26 C226.19 1547.73 220.56 1544.84 218.09 1543.3 C215.63 1541.76 210 1535.76 207.53 1534.06 C205.07 1532.37 199.43 1530.63 196.97 1528.78 C194.5 1526.93 188.62 1520.53 186.41 1518.22 C184.19 1515.91 178.94 1510.05 177.96 1508.98 Z" fill="#cfd6e8" stroke="none" opacity="0.62"/>
<path d="M177.96 1499.73 C178.94 1500.5 184.19 1505.41 186.41 1506.33 C188.62 1507.26 194.5 1507.81 196.97 1507.66 C199.43 1507.5 205.07 1505.48 207.53 1505.01 C210 1504.55 215.63 1503.85 218.09 1503.69 C220.56 1503.54 226.19 1503.23 228.66 1503.69 C231.12 1504.16 236.75 1506.95 239.22 1507.66 C241.68 1508.36 247.32 1510.38 249.78 1509.77 C252.25 1509.15 257.88 1503.54 260.34 1502.37 C262.81 1501.2 268.44 1500.29 270.91 1499.73 C273.37 1499.18 279 1498.08 281.47 1497.62 C283.93 1497.16 289.57 1496.14 292.03 1495.77 C294.5 1495.4 300.13 1494.91 302.59 1494.45 C305.06 1493.99 310.69 1492.49 313.16 1491.81 C315.62 1491.13 321.25 1488.95 323.72 1488.64 C326.18 1488.33 332.43 1488.65 334.28 1489.17 C336.13 1489.69 338.33 1492.15 339.56 1493.13 C340.79 1494.12 342.99 1497.77 344.84 1497.62 C346.69 1497.47 352.94 1492.8 355.41 1491.81 C357.87 1490.83 363.5 1489.63 365.97 1489.17 C368.43 1488.71 374.07 1487.91 376.53 1487.85 C378.99 1487.79 384.63 1488.24 387.09 1488.64 C389.56 1489.04 395.19 1491.84 397.66 1491.28 C400.12 1490.73 405.75 1485.06 408.22 1483.89 C410.68 1482.72 416.32 1481.87 418.78 1481.25 C421.24 1480.63 426.88 1479.22 429.34 1478.61 C431.81 1477.99 437.49 1476.28 439.9 1475.97 C442.31 1475.66 447.59 1476.28 450 1475.97 C452.41 1475.66 458.1 1473.79 460.56 1473.33 C463.03 1472.87 468.66 1471.76 471.12 1472.01 C473.59 1472.25 479.22 1474.92 481.69 1475.44 C484.15 1475.96 489.79 1476.5 492.25 1476.5 C494.71 1476.5 500.35 1476.12 502.81 1475.44 C505.28 1474.76 510.91 1471.49 513.37 1470.69 C515.84 1469.89 521.47 1468.27 523.94 1468.57 C526.4 1468.88 532.04 1472 534.5 1473.33 C536.96 1474.65 543.06 1478.63 545.06 1479.93 C547.06 1481.22 549.82 1485.8 551.66 1484.42 C553.51 1483.03 558.6 1470.33 560.91 1468.05 C563.22 1465.77 569 1465.03 571.47 1464.88 C573.93 1464.72 579.26 1465.74 582.03 1466.73 C584.8 1467.71 592.15 1473.17 595.23 1473.33 C598.31 1473.48 605.66 1469.12 608.44 1468.05 C611.21 1466.97 616.53 1464.95 619 1464.09 C621.46 1463.22 627.1 1460.65 629.56 1460.65 C632.03 1460.65 637.66 1463.84 640.12 1464.09 C642.59 1464.33 648.22 1462.36 650.69 1462.76 C653.15 1463.17 658.78 1467.27 661.25 1467.52 C663.71 1467.76 669.35 1465.59 671.81 1464.88 C674.28 1464.17 679.91 1461.38 682.37 1461.44 C684.84 1461.51 690.47 1465.5 692.94 1465.41 C695.4 1465.31 701.03 1462.19 703.5 1460.65 C705.96 1459.11 711.35 1453.5 714.06 1452.2 C716.77 1450.91 725.26 1449.87 726.74 1449.56" stroke="#90a6d8" stroke-width="1.1" fill="none" stroke-linejoin="round" stroke-linecap="butt" />
<path d="M177.96 1508.98 C178.94 1510.05 184.19 1515.91 186.41 1518.22 C188.62 1520.53 194.5 1526.93 196.97 1528.78 C199.43 1530.63 205.07 1532.37 207.53 1534.06 C210 1535.76 215.63 1541.76 218.09 1543.3 C220.56 1544.84 226.19 1547.73 228.66 1547.26 C231.12 1546.8 236.75 1541.19 239.22 1539.34 C241.68 1537.49 247.62 1532.5 249.78 1531.42 C251.94 1530.34 255.85 1528.56 257.7 1530.1 C259.55 1531.64 264.08 1542.62 265.62 1544.62 C267.16 1546.63 269.06 1546.96 270.91 1547.26 C272.75 1547.57 279 1546.96 281.47 1547.26 C283.93 1547.57 289.57 1549.44 292.03 1549.9 C294.5 1550.37 300.13 1551.07 302.59 1551.23 C305.06 1551.38 310.69 1551.53 313.16 1551.23 C315.62 1550.92 321.25 1548.58 323.72 1548.58 C326.18 1548.58 331.82 1550.61 334.28 1551.23 C336.75 1551.84 342.38 1553.1 344.84 1553.87 C347.31 1554.64 352.94 1557.21 355.41 1557.83 C357.87 1558.44 363.5 1558.99 365.97 1559.15 C368.43 1559.3 374.07 1558.68 376.53 1559.15 C378.99 1559.61 384.63 1562.49 387.09 1563.11 C389.56 1563.72 395.19 1564.43 397.66 1564.43 C400.12 1564.43 405.75 1563.42 408.22 1563.11 C410.68 1562.8 416.32 1562.4 418.78 1561.79 C421.24 1561.17 426.88 1558.29 429.34 1557.83 C431.81 1557.36 437.49 1557.52 439.9 1557.83 C442.31 1558.13 447.28 1559.08 450 1560.47 C452.72 1561.85 460.12 1569.25 463.2 1569.71 C466.28 1570.17 473.33 1565.26 476.41 1564.43 C479.49 1563.6 486.53 1562.73 489.61 1562.58 C492.69 1562.43 500.04 1563.35 502.81 1563.11 C505.58 1562.86 510.91 1560.93 513.37 1560.47 C515.84 1560.01 521.47 1559.7 523.94 1559.15 C526.4 1558.59 532.04 1556.33 534.5 1555.71 C536.96 1555.1 542.6 1553.99 545.06 1553.87 C547.53 1553.74 553.16 1553.43 555.62 1554.66 C558.09 1555.89 563.72 1563.75 566.19 1564.43 C568.65 1565.11 574.28 1561.39 576.75 1560.47 C579.21 1559.54 584.85 1557.12 587.31 1556.51 C589.78 1555.89 595.41 1555.65 597.87 1555.19 C600.34 1554.72 605.97 1552.55 608.44 1552.55 C610.9 1552.55 616.53 1554.42 619 1555.19 C621.46 1555.96 627.1 1558.99 629.56 1559.15 C632.03 1559.3 637.04 1556.2 640.12 1556.51 C643.2 1556.81 652.89 1561.63 655.97 1561.79 C659.05 1561.94 664.07 1558.44 666.53 1557.83 C668.99 1557.21 674.63 1556.97 677.09 1556.51 C679.56 1556.04 684.88 1554.02 687.66 1553.87 C690.43 1553.71 697.78 1555.19 700.86 1555.19 C703.94 1555.19 711.04 1554.11 714.06 1553.87 C717.08 1553.62 725.26 1553.17 726.74 1553.07" stroke="#90a6d8" stroke-width="1.1" fill="none" stroke-linejoin="round" stroke-linecap="butt" />
<path d="M177.96 1502.37 C179.08 1503.25 183.87 1507.39 186.41 1508.98 C188.94 1510.56 194.15 1514.01 196.97 1514.26 C199.79 1514.5 204.71 1511.07 207.53 1510.82 C210.35 1510.58 215.28 1511.95 218.09 1512.41 C220.91 1512.87 225.84 1513.83 228.66 1514.26 C231.47 1514.68 236.4 1515.12 239.22 1515.58 C242.04 1516.03 246.96 1516.99 249.78 1517.69 C252.6 1518.39 257.53 1520.08 260.34 1520.86 C263.16 1521.63 268.09 1522.97 270.91 1523.5 C273.72 1524.03 278.65 1524.47 281.47 1524.82 C284.28 1525.17 289.21 1525.79 292.03 1526.14 C294.85 1526.49 299.78 1526.76 302.59 1527.46 C305.41 1528.16 310.34 1530.96 313.16 1531.42 C315.97 1531.88 320.9 1530.89 323.72 1530.89 C326.53 1530.89 331.46 1531.53 334.28 1531.42 C337.1 1531.32 342.03 1530.45 344.84 1530.1 C347.66 1529.75 352.59 1528.53 355.41 1528.78 C358.22 1529.03 363.15 1531.24 365.97 1531.95 C368.78 1532.65 373.71 1533.36 376.53 1534.06 C379.35 1534.77 384.28 1536.35 387.09 1537.23 C389.91 1538.11 394.84 1540.03 397.66 1540.66 C400.47 1541.3 405.4 1541.63 408.22 1541.98 C411.03 1542.34 415.96 1542.78 418.78 1543.3 C421.6 1543.83 426.53 1545.84 429.34 1545.94 C432.16 1546.05 437.15 1544.45 439.9 1544.1 C442.66 1543.74 447.25 1543.3 450 1543.3 C452.75 1543.3 457.75 1544.34 460.56 1544.1 C463.38 1543.85 468.31 1542.02 471.12 1541.45 C473.94 1540.89 478.87 1539.98 481.69 1539.87 C484.5 1539.76 489.43 1540.38 492.25 1540.66 C495.07 1540.94 500 1541.88 502.81 1541.98 C505.63 1542.09 510.56 1541.28 513.37 1541.45 C516.19 1541.63 521.12 1542.95 523.94 1543.3 C526.75 1543.66 531.68 1544.1 534.5 1544.1 C537.32 1544.1 542.25 1543.23 545.06 1543.3 C547.88 1543.37 552.81 1544.45 555.62 1544.62 C558.44 1544.8 563.37 1544.8 566.19 1544.62 C569 1544.45 573.93 1543.02 576.75 1543.3 C579.57 1543.59 584.5 1546.28 587.31 1546.74 C590.13 1547.19 595.06 1546.49 597.87 1546.74 C600.69 1546.98 605.62 1547.81 608.44 1548.58 C611.25 1549.36 616.18 1552.3 619 1552.55 C621.82 1552.79 626.75 1550.79 629.56 1550.43 C632.38 1550.08 637.31 1550.5 640.12 1549.9 C642.94 1549.31 647.87 1546.47 650.69 1545.94 C653.5 1545.42 658.43 1545.77 661.25 1545.94 C664.07 1546.12 668.99 1547.37 671.81 1547.26 C674.63 1547.16 679.56 1544.98 682.37 1545.15 C685.19 1545.33 690.12 1548.02 692.94 1548.58 C695.75 1549.15 700.68 1548.78 703.5 1549.38 C706.32 1549.98 710.96 1552.65 714.06 1553.07 C717.16 1553.5 725.05 1552.62 726.74 1552.55" stroke="#0a0a0a" stroke-width="3.4" fill="none" stroke-linejoin="round" stroke-linecap="butt" />
<path d="M177.96 1505.01 C179.08 1506.07 183.87 1511 186.41 1512.94 C188.94 1514.87 194.15 1518.48 196.97 1519.54 C199.79 1520.59 204.71 1520.33 207.53 1520.86 C210.35 1521.39 215.28 1522.79 218.09 1523.5 C220.91 1524.2 225.84 1526.07 228.66 1526.14 C231.47 1526.21 236.4 1524.91 239.22 1524.03 C242.04 1523.15 246.96 1519.96 249.78 1519.54 C252.6 1519.12 257.53 1520.26 260.34 1520.86 C263.16 1521.46 268.09 1523.6 270.91 1524.03 C273.72 1524.45 278.65 1523.92 281.47 1524.03 C284.28 1524.13 289.21 1524.82 292.03 1524.82 C294.85 1524.82 299.78 1524.38 302.59 1524.03 C305.41 1523.67 310.34 1522.95 313.16 1522.18 C315.97 1521.4 321.61 1518.82 323.72 1518.22 C325.83 1517.62 326.89 1516.99 329 1517.69 C331.11 1518.39 337.45 1522.3 339.56 1523.5 C341.67 1524.7 342.73 1526.39 344.84 1526.67 C346.96 1526.95 352.59 1525.96 355.41 1525.61 C358.22 1525.26 363.15 1524.13 365.97 1524.03 C368.78 1523.92 373.71 1524.61 376.53 1524.82 C379.35 1525.03 384.28 1525.36 387.09 1525.61 C389.91 1525.86 394.84 1526.88 397.66 1526.67 C400.47 1526.46 405.4 1524.63 408.22 1524.03 C411.03 1523.43 415.96 1522.6 418.78 1522.18 C421.6 1521.76 426.53 1521.32 429.34 1520.86 C432.16 1520.4 437.15 1519.1 439.9 1518.75 C442.66 1518.39 447.25 1518.11 450 1518.22 C452.75 1518.32 457.75 1519.54 460.56 1519.54 C463.38 1519.54 468.31 1518.11 471.12 1518.22 C473.94 1518.32 478.87 1520.26 481.69 1520.33 C484.5 1520.4 489.43 1518.68 492.25 1518.75 C495.07 1518.82 500 1521.1 502.81 1520.86 C505.63 1520.61 510.56 1517.78 513.37 1516.9 C516.19 1516.02 521.12 1514.71 523.94 1514.26 C526.75 1513.8 531.68 1512.94 534.5 1513.46 C537.32 1513.99 542.95 1517.23 545.06 1518.22 C547.17 1519.2 548.23 1521.21 550.34 1520.86 C552.46 1520.51 558.09 1516.56 560.91 1515.58 C563.72 1514.59 568.65 1513.64 571.47 1513.46 C574.28 1513.29 579.21 1513.98 582.03 1514.26 C584.85 1514.54 589.78 1515.75 592.59 1515.58 C595.41 1515.4 600.34 1513.57 603.16 1512.94 C605.97 1512.3 610.9 1511.35 613.72 1510.82 C616.53 1510.3 621.46 1508.87 624.28 1508.98 C627.1 1509.08 632.38 1511.69 634.84 1511.62 C637.31 1511.55 640.65 1508.34 642.76 1508.45 C644.88 1508.55 648.57 1511.46 650.69 1512.41 C652.8 1513.36 656.14 1515.58 658.61 1515.58 C661.07 1515.58 666.35 1513.11 669.17 1512.41 C671.99 1511.7 676.92 1510.75 679.73 1510.3 C682.55 1509.84 687.48 1509.05 690.3 1508.98 C693.11 1508.91 698.04 1510.12 700.86 1509.77 C703.67 1509.42 708.96 1507.25 711.42 1506.33 C713.89 1505.42 717.3 1503.36 719.34 1502.9 C721.38 1502.44 725.75 1502.9 726.74 1502.9" stroke="#3f6fc6" stroke-width="3.2" fill="none" stroke-linejoin="round" stroke-linecap="butt" />
<line x1="177.8" y1="1285.2" x2="736" y2="1285.2" stroke="#2e2e2e" stroke-width="2.1" />
<line x1="177.8" y1="1285.2" x2="177.8" y2="1734" stroke="#2e2e2e" stroke-width="2.1" />
<line x1="177" y1="1734" x2="736.8" y2="1734" stroke="#2e2e2e" stroke-width="2.1" />
<line x1="736" y1="1285.2" x2="736" y2="1734" stroke="#2e2e2e" stroke-width="2.1" />
<line x1="289.28" y1="1734" x2="289.28" y2="1725" stroke="#2e2e2e" stroke-width="1.8" />
<line x1="400.96" y1="1734" x2="400.96" y2="1725" stroke="#2e2e2e" stroke-width="1.8" />
<line x1="512.64" y1="1734" x2="512.64" y2="1725" stroke="#2e2e2e" stroke-width="1.8" />
<line x1="624.32" y1="1734" x2="624.32" y2="1725" stroke="#2e2e2e" stroke-width="1.8" />
<line x1="233.44" y1="1734" x2="233.44" y2="1729" stroke="#2e2e2e" stroke-width="1.8" />
<line x1="345.12" y1="1734" x2="345.12" y2="1729" stroke="#2e2e2e" stroke-width="1.8" />
<line x1="456.8" y1="1734" x2="456.8" y2="1729" stroke="#2e2e2e" stroke-width="1.8" />
<line x1="568.48" y1="1734" x2="568.48" y2="1729" stroke="#2e2e2e" stroke-width="1.8" />
<line x1="680.16" y1="1734" x2="680.16" y2="1729" stroke="#2e2e2e" stroke-width="1.8" />
<line x1="289.28" y1="1285.2" x2="289.28" y2="1294.2" stroke="#2e2e2e" stroke-width="1.8" />
<line x1="400.96" y1="1285.2" x2="400.96" y2="1294.2" stroke="#2e2e2e" stroke-width="1.8" />
<line x1="512.64" y1="1285.2" x2="512.64" y2="1294.2" stroke="#2e2e2e" stroke-width="1.8" />
<line x1="624.32" y1="1285.2" x2="624.32" y2="1294.2" stroke="#2e2e2e" stroke-width="1.8" />
<line x1="233.44" y1="1285.2" x2="233.44" y2="1290.2" stroke="#2e2e2e" stroke-width="1.8" />
<line x1="345.12" y1="1285.2" x2="345.12" y2="1290.2" stroke="#2e2e2e" stroke-width="1.8" />
<line x1="456.8" y1="1285.2" x2="456.8" y2="1290.2" stroke="#2e2e2e" stroke-width="1.8" />
<line x1="568.48" y1="1285.2" x2="568.48" y2="1290.2" stroke="#2e2e2e" stroke-width="1.8" />
<line x1="680.16" y1="1285.2" x2="680.16" y2="1290.2" stroke="#2e2e2e" stroke-width="1.8" />
<line x1="177.8" y1="1689.28" x2="186.8" y2="1689.28" stroke="#2e2e2e" stroke-width="1.8" />
<line x1="177.8" y1="1599.24" x2="186.8" y2="1599.24" stroke="#2e2e2e" stroke-width="1.8" />
<line x1="177.8" y1="1509.2" x2="186.8" y2="1509.2" stroke="#2e2e2e" stroke-width="1.8" />
<line x1="177.8" y1="1419.16" x2="186.8" y2="1419.16" stroke="#2e2e2e" stroke-width="1.8" />
<line x1="177.8" y1="1329.12" x2="186.8" y2="1329.12" stroke="#2e2e2e" stroke-width="1.8" />
<line x1="177.8" y1="1644.26" x2="182.8" y2="1644.26" stroke="#2e2e2e" stroke-width="1.8" />
<line x1="177.8" y1="1554.22" x2="182.8" y2="1554.22" stroke="#2e2e2e" stroke-width="1.8" />
<line x1="177.8" y1="1464.18" x2="182.8" y2="1464.18" stroke="#2e2e2e" stroke-width="1.8" />
<line x1="177.8" y1="1374.14" x2="182.8" y2="1374.14" stroke="#2e2e2e" stroke-width="1.8" />
<line x1="736" y1="1689.28" x2="727" y2="1689.28" stroke="#2e2e2e" stroke-width="1.8" />
<line x1="736" y1="1599.24" x2="727" y2="1599.24" stroke="#2e2e2e" stroke-width="1.8" />
<line x1="736" y1="1509.2" x2="727" y2="1509.2" stroke="#2e2e2e" stroke-width="1.8" />
<line x1="736" y1="1419.16" x2="727" y2="1419.16" stroke="#2e2e2e" stroke-width="1.8" />
<line x1="736" y1="1329.12" x2="727" y2="1329.12" stroke="#2e2e2e" stroke-width="1.8" />
<line x1="736" y1="1644.26" x2="731" y2="1644.26" stroke="#2e2e2e" stroke-width="1.8" />
<line x1="736" y1="1554.22" x2="731" y2="1554.22" stroke="#2e2e2e" stroke-width="1.8" />
<line x1="736" y1="1464.18" x2="731" y2="1464.18" stroke="#2e2e2e" stroke-width="1.8" />
<line x1="736" y1="1374.14" x2="731" y2="1374.14" stroke="#2e2e2e" stroke-width="1.8" />
<text x="289.28" y="1764" font-size="25" text-anchor="middle" fill="#000" >500</text>
<text x="400.96" y="1764" font-size="25" text-anchor="middle" fill="#000" >1000</text>
<text x="512.64" y="1764" font-size="25" text-anchor="middle" fill="#000" >1500</text>
<text x="624.32" y="1764" font-size="25" text-anchor="middle" fill="#000" >2000</text>
<text x="736" y="1764" font-size="25" text-anchor="middle" fill="#000" >2500</text>
<text x="167.3" y="1696.88" font-size="25" text-anchor="end" fill="#000" >0.96</text>
<text x="167.3" y="1606.84" font-size="25" text-anchor="end" fill="#000" >0.98</text>
<text x="167.3" y="1516.8" font-size="25" text-anchor="end" fill="#000" >1.00</text>
<text x="167.3" y="1426.76" font-size="25" text-anchor="end" fill="#000" >1.02</text>
<text x="167.3" y="1336.72" font-size="25" text-anchor="end" fill="#000" >1.04</text>
<text x="456" y="1808" font-size="33.3" text-anchor="middle" fill="#000" >Time (s)</text>
<text x="93" y="1509" font-size="34" text-anchor="middle" transform="rotate(-90 93 1509)">R/R<tspan font-size="21" dy="7">0</tspan></text>
<rect x="483" y="1286.2" width="252" height="60.4" fill="#fff"/>
<path d="M483 1286.2 V1346.6 H736.0" fill="none" stroke="#8a8a8a" stroke-width="1.3"/>
<line x1="483.5" y1="1301.7" x2="539" y2="1301.7" stroke="#0a0a0a" stroke-width="3.2" />
<line x1="483.5" y1="1330.2" x2="539" y2="1330.2" stroke="#3f6fc6" stroke-width="3.2" />
<text x="545" y="1309.8" font-size="23.4" text-anchor="start" fill="#222" >No stress</text>
<text x="545" y="1338" font-size="23.4" text-anchor="start" fill="#222" >Mechanical stress</text>
<line x1="736" y1="1285.2" x2="736" y2="1734" stroke="#2e2e2e" stroke-width="2.1" />
</g>
<g id="panel-f">
<text x="888" y="1314.3" font-size="46" text-anchor="start" fill="#000" >f</text>
<clipPath id="clipf"><rect x="1084.5" y="1278.4" width="558.1" height="449.6"/></clipPath>
<g clip-path="url(#clipf)">
<path d="M1084.52 1523.5 C1084.96 1529.04 1086.52 1552.15 1087.43 1560.47 C1088.34 1568.79 1089.57 1578.56 1090.6 1578.95 C1091.63 1579.35 1093.03 1575.78 1094.29 1563.11 C1095.56 1550.43 1097.74 1511.09 1099.05 1494.45 C1100.35 1477.82 1102.02 1460.52 1103.01 1452.2 C1104 1443.88 1104.58 1441.38 1105.65 1439 C1106.72 1436.62 1108.95 1433.98 1110.14 1436.36 C1111.33 1438.74 1112.46 1447.32 1113.57 1454.84 C1114.68 1462.37 1116.14 1472.67 1117.53 1486.53 C1118.92 1500.39 1121.51 1534.19 1122.81 1547.26 C1124.12 1560.34 1125.25 1568.32 1126.25 1573.67 C1127.24 1579.02 1128.46 1584.1 1129.41 1582.91 C1130.36 1581.72 1131.59 1573.08 1132.58 1565.75 C1133.57 1558.42 1134.31 1547.53 1136.02 1534.06 C1137.72 1520.59 1142.27 1487.45 1143.94 1475.97 C1145.6 1464.48 1146.31 1460.85 1147.11 1457.48 C1147.9 1454.12 1148.62 1451.54 1149.22 1453.52 C1149.81 1455.5 1150.47 1462.57 1151.07 1470.69 C1151.66 1478.81 1152.27 1494.58 1153.18 1507.66 C1154.09 1520.73 1155.95 1547.53 1157.14 1557.83 C1158.33 1568.13 1159.91 1574.73 1161.1 1576.31 C1162.29 1577.9 1164.15 1573.54 1165.06 1568.39 C1165.97 1563.24 1166.38 1553.07 1167.17 1541.98 C1167.97 1530.89 1169.23 1507.92 1170.34 1494.45 C1171.45 1480.98 1173.38 1460.92 1174.57 1452.2 C1175.76 1443.49 1177.24 1435.96 1178.27 1436.36 C1179.29 1436.75 1180.44 1448.11 1181.43 1454.84 C1182.42 1461.58 1183.76 1469.37 1184.87 1481.25 C1185.98 1493.13 1187.56 1521.98 1188.83 1534.06 C1190.1 1546.14 1192.21 1559.81 1193.32 1561.79 C1194.43 1563.77 1195.31 1552.22 1196.22 1547.26 C1197.13 1542.31 1198.12 1542.64 1199.39 1528.78 C1200.66 1514.92 1203.28 1473.06 1204.67 1454.84 C1206.06 1436.62 1207.52 1416.62 1208.63 1407.31 C1209.74 1398 1211.15 1391.2 1212.06 1392.79 C1212.98 1394.37 1213.83 1406.59 1214.71 1417.87 C1215.58 1429.16 1216.61 1448.64 1217.87 1468.05 C1219.14 1487.45 1221.85 1529.84 1223.16 1547.26 C1224.46 1564.69 1225.6 1577.02 1226.59 1584.23 C1227.58 1591.44 1228.89 1596.91 1229.76 1595.32 C1230.63 1593.74 1231.61 1582.86 1232.4 1573.67 C1233.19 1564.48 1233.85 1553.87 1235.04 1534.06 C1236.23 1514.26 1239.01 1463.42 1240.32 1441.64 C1241.63 1419.85 1242.84 1399.52 1243.75 1388.83 C1244.66 1378.13 1245.6 1369.16 1246.39 1370.34 C1247.19 1371.53 1248.16 1384.07 1249.03 1396.75 C1249.9 1409.42 1250.74 1433.06 1252.2 1454.84 C1253.67 1476.63 1257.34 1525.55 1258.8 1541.98 C1260.27 1558.42 1261.1 1559.87 1261.97 1564.43 C1262.84 1568.98 1263.86 1574.53 1264.61 1572.35 C1265.37 1570.17 1266.28 1559.61 1266.99 1549.9 C1267.7 1540.2 1268.22 1529.04 1269.37 1507.66 C1270.51 1486.27 1273.42 1427.12 1274.65 1407.31 C1275.88 1387.51 1276.76 1381.88 1277.55 1375.62 C1278.34 1369.37 1279.06 1365.59 1279.93 1365.59 C1280.8 1365.59 1282.45 1368.57 1283.36 1375.62 C1284.27 1382.67 1285.13 1400.71 1286 1412.59 C1286.87 1424.48 1287.9 1438.6 1289.17 1454.84 C1290.44 1471.08 1293.26 1508.18 1294.45 1520.86 C1295.64 1533.53 1296.38 1535.58 1297.09 1539.34 C1297.81 1543.11 1298.49 1547.53 1299.21 1545.94 C1299.92 1544.36 1300.97 1535.32 1301.85 1528.78 C1302.72 1522.24 1303.55 1515.44 1305.01 1502.37 C1306.48 1489.3 1310.23 1454.31 1311.62 1441.64 C1313 1428.96 1313.58 1422.83 1314.26 1417.87 C1314.93 1412.92 1315.51 1406.26 1316.11 1408.63 C1316.7 1411.01 1317.5 1424.81 1318.22 1433.72 C1318.93 1442.63 1319.87 1453.79 1320.86 1468.05 C1321.85 1482.31 1323.63 1517.21 1324.82 1528.78 C1326.01 1540.35 1327.79 1544.36 1328.78 1545.15 C1329.77 1545.94 1330.63 1538.89 1331.42 1534.06 C1332.21 1529.23 1332.87 1527.99 1334.06 1512.94 C1335.25 1497.88 1338.15 1451.54 1339.34 1433.72 C1340.53 1415.89 1341.27 1402.62 1341.98 1394.11 C1342.7 1385.59 1343.38 1378.13 1344.1 1376.94 C1344.81 1375.76 1345.86 1382.42 1346.74 1386.19 C1347.61 1389.95 1349.02 1395.69 1349.9 1402.03 C1350.79 1408.37 1351.64 1416.55 1352.64 1428.44 C1353.65 1440.32 1355.22 1465.41 1356.6 1481.25 C1357.99 1497.09 1360.5 1520.2 1361.88 1534.06 C1363.27 1547.92 1364.77 1565.75 1365.84 1573.67 C1366.91 1581.59 1368.14 1585.69 1369.01 1586.87 C1369.88 1588.06 1370.94 1584.36 1371.65 1581.59 C1372.37 1578.82 1372.85 1581.46 1373.77 1568.39 C1374.68 1555.32 1376.82 1510.69 1377.73 1494.45 C1378.64 1478.21 1379.24 1467.06 1379.84 1460.12 C1380.43 1453.19 1380.82 1448.24 1381.69 1448.24 C1382.56 1448.24 1384.46 1454.38 1385.65 1460.12 C1386.84 1465.87 1388.42 1473.46 1389.61 1486.53 C1390.8 1499.6 1392.38 1533.4 1393.57 1547.26 C1394.76 1561.13 1396.34 1573.33 1397.53 1578.95 C1398.72 1584.58 1400.3 1585.16 1401.49 1584.76 C1402.68 1584.36 1404.26 1585.9 1405.45 1576.31 C1406.64 1566.73 1408.03 1541.06 1409.41 1520.86 C1410.8 1500.66 1413.31 1459.07 1414.7 1441.64 C1416.08 1424.21 1417.59 1412 1418.66 1404.67 C1419.73 1397.34 1421.11 1391.6 1421.82 1392.79 C1422.54 1393.98 1422.89 1405.27 1423.41 1412.59 C1423.92 1419.92 1424.39 1425.4 1425.26 1441.64 C1426.13 1457.88 1428.03 1499.07 1429.22 1520.86 C1430.41 1542.64 1431.99 1574.79 1433.18 1586.87 C1434.37 1598.95 1436.23 1600.6 1437.14 1601.4 C1438.05 1602.19 1438.66 1596.31 1439.25 1592.15 C1439.85 1588 1440.23 1588.33 1441.1 1573.67 C1441.97 1559.02 1444.07 1513.86 1445.06 1494.45 C1446.05 1475.04 1446.99 1454.58 1447.7 1444.28 C1448.42 1433.98 1448.82 1426.19 1449.82 1425.8 C1450.81 1425.4 1453.04 1432.53 1454.3 1441.64 C1455.57 1450.75 1457.08 1472.67 1458.27 1486.53 C1459.45 1500.39 1461.32 1522.57 1462.23 1534.06 C1463.14 1545.55 1463.74 1557.17 1464.34 1563.11 C1464.93 1569.05 1465.32 1574.07 1466.19 1573.67 C1467.06 1573.27 1469.04 1563.24 1470.15 1560.47 C1471.26 1557.69 1472.59 1561.13 1473.58 1555.19 C1474.57 1549.24 1475.48 1533.93 1476.75 1520.86 C1478.02 1507.79 1480.64 1478.94 1482.03 1468.05 C1483.42 1457.15 1485 1447.85 1485.99 1448.24 C1486.98 1448.64 1487.44 1463.75 1488.63 1470.69 C1489.82 1477.62 1492.53 1482.97 1493.91 1494.45 C1495.3 1505.94 1496.69 1534.59 1497.87 1547.26 C1499.06 1559.94 1500.45 1571.23 1501.84 1578.95 C1503.22 1586.68 1505.73 1599.15 1507.12 1598.76 C1508.5 1598.36 1509.89 1584.43 1511.08 1576.31 C1512.27 1568.19 1514.05 1550.17 1515.04 1544.62 C1516.03 1539.08 1516.97 1542.91 1517.68 1539.34 C1518.39 1535.78 1519.2 1524.42 1519.79 1520.86 C1520.39 1517.29 1521.05 1514.78 1521.64 1515.58 C1522.23 1516.37 1523.16 1522.18 1523.75 1526.14 C1524.35 1530.1 1524.73 1532.87 1525.6 1541.98 C1526.47 1551.09 1528.37 1574.2 1529.56 1586.87 C1530.75 1599.55 1532.41 1616.98 1533.52 1626.48 C1534.63 1635.99 1536.16 1645.18 1536.96 1650.25 C1537.75 1655.32 1538.25 1660.68 1538.8 1660.28 C1539.36 1659.89 1540.06 1652.68 1540.65 1647.61 C1541.25 1642.54 1541.85 1641.53 1542.76 1626.48 C1543.68 1611.43 1545.54 1567.07 1546.73 1547.26 C1547.91 1527.46 1549.78 1504.55 1550.69 1494.45 C1551.6 1484.35 1552.01 1479.93 1552.8 1479.93 C1553.59 1479.93 1554.9 1489.5 1555.97 1494.45 C1557.04 1499.4 1558.94 1503.03 1559.93 1512.94 C1560.92 1522.84 1561.58 1541.45 1562.57 1560.47 C1563.56 1579.48 1565.54 1622.65 1566.53 1639.69 C1567.52 1656.72 1568.58 1667.68 1569.17 1674.01 C1569.76 1680.35 1569.7 1681.54 1570.49 1681.94 C1571.28 1682.33 1573.07 1682.99 1574.45 1676.65 C1575.84 1670.32 1578.35 1655.13 1579.73 1639.69 C1581.12 1624.24 1582.7 1589.12 1583.69 1573.67 C1584.68 1558.22 1585.74 1543.83 1586.33 1536.7 C1586.93 1529.57 1587.18 1525.74 1587.66 1526.14 C1588.13 1526.54 1588.91 1535.78 1589.5 1539.34 C1590.1 1542.91 1590.71 1545.55 1591.62 1549.9 C1592.53 1554.26 1594.39 1558.88 1595.58 1568.39 C1596.77 1577.9 1598.35 1598.62 1599.54 1613.28 C1600.73 1627.94 1602.51 1656.98 1603.5 1666.09 C1604.49 1675.2 1605.15 1674.01 1606.14 1674.01 C1607.13 1674.01 1608.91 1675.2 1610.1 1666.09 C1611.29 1656.98 1612.87 1633.08 1614.06 1613.28 C1615.25 1593.48 1616.83 1554.66 1618.02 1534.06 C1619.21 1513.46 1620.99 1486.54 1621.98 1475.97 C1622.97 1465.39 1623.91 1462.76 1624.62 1463.56 C1625.34 1464.35 1626.14 1474.63 1626.74 1481.25 C1627.33 1487.86 1627.71 1497.75 1628.58 1507.66 C1629.46 1517.56 1631.36 1533.4 1632.55 1547.26 C1633.73 1561.13 1635.44 1587.8 1636.51 1600.08 C1637.58 1612.36 1638.76 1624.37 1639.68 1629.12 C1640.59 1633.88 1642.14 1631.37 1642.58 1631.76" stroke="#000" stroke-width="3.7" fill="none" stroke-linejoin="round" stroke-linecap="butt" />
</g>
<line x1="1084.5" y1="1278.4" x2="1642.6" y2="1278.4" stroke="#2e2e2e" stroke-width="2.1" />
<line x1="1084.5" y1="1278.4" x2="1084.5" y2="1728" stroke="#2e2e2e" stroke-width="2.1" />
<line x1="1083.7" y1="1728" x2="1643.4" y2="1728" stroke="#2e2e2e" stroke-width="2.1" />
<line x1="1642.6" y1="1278.4" x2="1642.6" y2="1728" stroke="#2e2e2e" stroke-width="2.1" />
<line x1="1154.26" y1="1728" x2="1154.26" y2="1719" stroke="#2e2e2e" stroke-width="1.8" />
<line x1="1224.03" y1="1728" x2="1224.03" y2="1719" stroke="#2e2e2e" stroke-width="1.8" />
<line x1="1293.79" y1="1728" x2="1293.79" y2="1719" stroke="#2e2e2e" stroke-width="1.8" />
<line x1="1363.55" y1="1728" x2="1363.55" y2="1719" stroke="#2e2e2e" stroke-width="1.8" />
<line x1="1433.31" y1="1728" x2="1433.31" y2="1719" stroke="#2e2e2e" stroke-width="1.8" />
<line x1="1503.07" y1="1728" x2="1503.07" y2="1719" stroke="#2e2e2e" stroke-width="1.8" />
<line x1="1572.84" y1="1728" x2="1572.84" y2="1719" stroke="#2e2e2e" stroke-width="1.8" />
<line x1="1119.38" y1="1728" x2="1119.38" y2="1723" stroke="#2e2e2e" stroke-width="1.8" />
<line x1="1189.14" y1="1728" x2="1189.14" y2="1723" stroke="#2e2e2e" stroke-width="1.8" />
<line x1="1258.91" y1="1728" x2="1258.91" y2="1723" stroke="#2e2e2e" stroke-width="1.8" />
<line x1="1328.67" y1="1728" x2="1328.67" y2="1723" stroke="#2e2e2e" stroke-width="1.8" />
<line x1="1398.43" y1="1728" x2="1398.43" y2="1723" stroke="#2e2e2e" stroke-width="1.8" />
<line x1="1468.19" y1="1728" x2="1468.19" y2="1723" stroke="#2e2e2e" stroke-width="1.8" />
<line x1="1537.96" y1="1728" x2="1537.96" y2="1723" stroke="#2e2e2e" stroke-width="1.8" />
<line x1="1607.72" y1="1728" x2="1607.72" y2="1723" stroke="#2e2e2e" stroke-width="1.8" />
<line x1="1154.26" y1="1278.4" x2="1154.26" y2="1287.4" stroke="#2e2e2e" stroke-width="1.8" />
<line x1="1224.03" y1="1278.4" x2="1224.03" y2="1287.4" stroke="#2e2e2e" stroke-width="1.8" />
<line x1="1293.79" y1="1278.4" x2="1293.79" y2="1287.4" stroke="#2e2e2e" stroke-width="1.8" />
<line x1="1363.55" y1="1278.4" x2="1363.55" y2="1287.4" stroke="#2e2e2e" stroke-width="1.8" />
<line x1="1433.31" y1="1278.4" x2="1433.31" y2="1287.4" stroke="#2e2e2e" stroke-width="1.8" />
<line x1="1503.07" y1="1278.4" x2="1503.07" y2="1287.4" stroke="#2e2e2e" stroke-width="1.8" />
<line x1="1572.84" y1="1278.4" x2="1572.84" y2="1287.4" stroke="#2e2e2e" stroke-width="1.8" />
<line x1="1119.38" y1="1278.4" x2="1119.38" y2="1283.4" stroke="#2e2e2e" stroke-width="1.8" />
<line x1="1189.14" y1="1278.4" x2="1189.14" y2="1283.4" stroke="#2e2e2e" stroke-width="1.8" />
<line x1="1258.91" y1="1278.4" x2="1258.91" y2="1283.4" stroke="#2e2e2e" stroke-width="1.8" />
<line x1="1328.67" y1="1278.4" x2="1328.67" y2="1283.4" stroke="#2e2e2e" stroke-width="1.8" />
<line x1="1398.43" y1="1278.4" x2="1398.43" y2="1283.4" stroke="#2e2e2e" stroke-width="1.8" />
<line x1="1468.19" y1="1278.4" x2="1468.19" y2="1283.4" stroke="#2e2e2e" stroke-width="1.8" />
<line x1="1537.96" y1="1278.4" x2="1537.96" y2="1283.4" stroke="#2e2e2e" stroke-width="1.8" />
<line x1="1607.72" y1="1278.4" x2="1607.72" y2="1283.4" stroke="#2e2e2e" stroke-width="1.8" />
<line x1="1084.5" y1="1638.08" x2="1093.5" y2="1638.08" stroke="#2e2e2e" stroke-width="1.8" />
<line x1="1084.5" y1="1548.16" x2="1093.5" y2="1548.16" stroke="#2e2e2e" stroke-width="1.8" />
<line x1="1084.5" y1="1458.24" x2="1093.5" y2="1458.24" stroke="#2e2e2e" stroke-width="1.8" />
<line x1="1084.5" y1="1368.32" x2="1093.5" y2="1368.32" stroke="#2e2e2e" stroke-width="1.8" />
<line x1="1084.5" y1="1683.04" x2="1089.5" y2="1683.04" stroke="#2e2e2e" stroke-width="1.8" />
<line x1="1084.5" y1="1593.12" x2="1089.5" y2="1593.12" stroke="#2e2e2e" stroke-width="1.8" />
<line x1="1084.5" y1="1503.2" x2="1089.5" y2="1503.2" stroke="#2e2e2e" stroke-width="1.8" />
<line x1="1084.5" y1="1413.28" x2="1089.5" y2="1413.28" stroke="#2e2e2e" stroke-width="1.8" />
<line x1="1084.5" y1="1323.36" x2="1089.5" y2="1323.36" stroke="#2e2e2e" stroke-width="1.8" />
<line x1="1642.6" y1="1638.08" x2="1633.6" y2="1638.08" stroke="#2e2e2e" stroke-width="1.8" />
<line x1="1642.6" y1="1548.16" x2="1633.6" y2="1548.16" stroke="#2e2e2e" stroke-width="1.8" />
<line x1="1642.6" y1="1458.24" x2="1633.6" y2="1458.24" stroke="#2e2e2e" stroke-width="1.8" />
<line x1="1642.6" y1="1368.32" x2="1633.6" y2="1368.32" stroke="#2e2e2e" stroke-width="1.8" />
<line x1="1642.6" y1="1683.04" x2="1637.6" y2="1683.04" stroke="#2e2e2e" stroke-width="1.8" />
<line x1="1642.6" y1="1593.12" x2="1637.6" y2="1593.12" stroke="#2e2e2e" stroke-width="1.8" />
<line x1="1642.6" y1="1503.2" x2="1637.6" y2="1503.2" stroke="#2e2e2e" stroke-width="1.8" />
<line x1="1642.6" y1="1413.28" x2="1637.6" y2="1413.28" stroke="#2e2e2e" stroke-width="1.8" />
<line x1="1642.6" y1="1323.36" x2="1637.6" y2="1323.36" stroke="#2e2e2e" stroke-width="1.8" />
<text x="1084.5" y="1758" font-size="25" text-anchor="middle" fill="#000" >60</text>
<text x="1154.26" y="1758" font-size="25" text-anchor="middle" fill="#000" >65</text>
<text x="1224.03" y="1758" font-size="25" text-anchor="middle" fill="#000" >70</text>
<text x="1293.79" y="1758" font-size="25" text-anchor="middle" fill="#000" >75</text>
<text x="1363.55" y="1758" font-size="25" text-anchor="middle" fill="#000" >80</text>
<text x="1433.31" y="1758" font-size="25" text-anchor="middle" fill="#000" >85</text>
<text x="1503.07" y="1758" font-size="25" text-anchor="middle" fill="#000" >90</text>
<text x="1572.84" y="1758" font-size="25" text-anchor="middle" fill="#000" >95</text>
<text x="1642.6" y="1758" font-size="25" text-anchor="middle" fill="#000" >100</text>
<text x="1073" y="1735.6" font-size="25" text-anchor="end" fill="#000" >2.920</text>
<text x="1073" y="1645.68" font-size="25" text-anchor="end" fill="#000" >2.925</text>
<text x="1073" y="1555.76" font-size="25" text-anchor="end" fill="#000" >2.930</text>
<text x="1073" y="1465.84" font-size="25" text-anchor="end" fill="#000" >2.935</text>
<text x="1073" y="1375.92" font-size="25" text-anchor="end" fill="#000" >2.940</text>
<text x="1073" y="1286" font-size="25" text-anchor="end" fill="#000" >2.945</text>
<text x="1363" y="1806" font-size="33.3" text-anchor="middle" fill="#000" >Time (s)</text>
<text x="983" y="1491" font-size="34" text-anchor="middle" fill="#000" transform="rotate(-90 983 1491)" >Resistance (<tspan font-family="'Liberation Serif', serif">&#937;</tspan>)</text>
</g>
</svg>
</body>
</html>
